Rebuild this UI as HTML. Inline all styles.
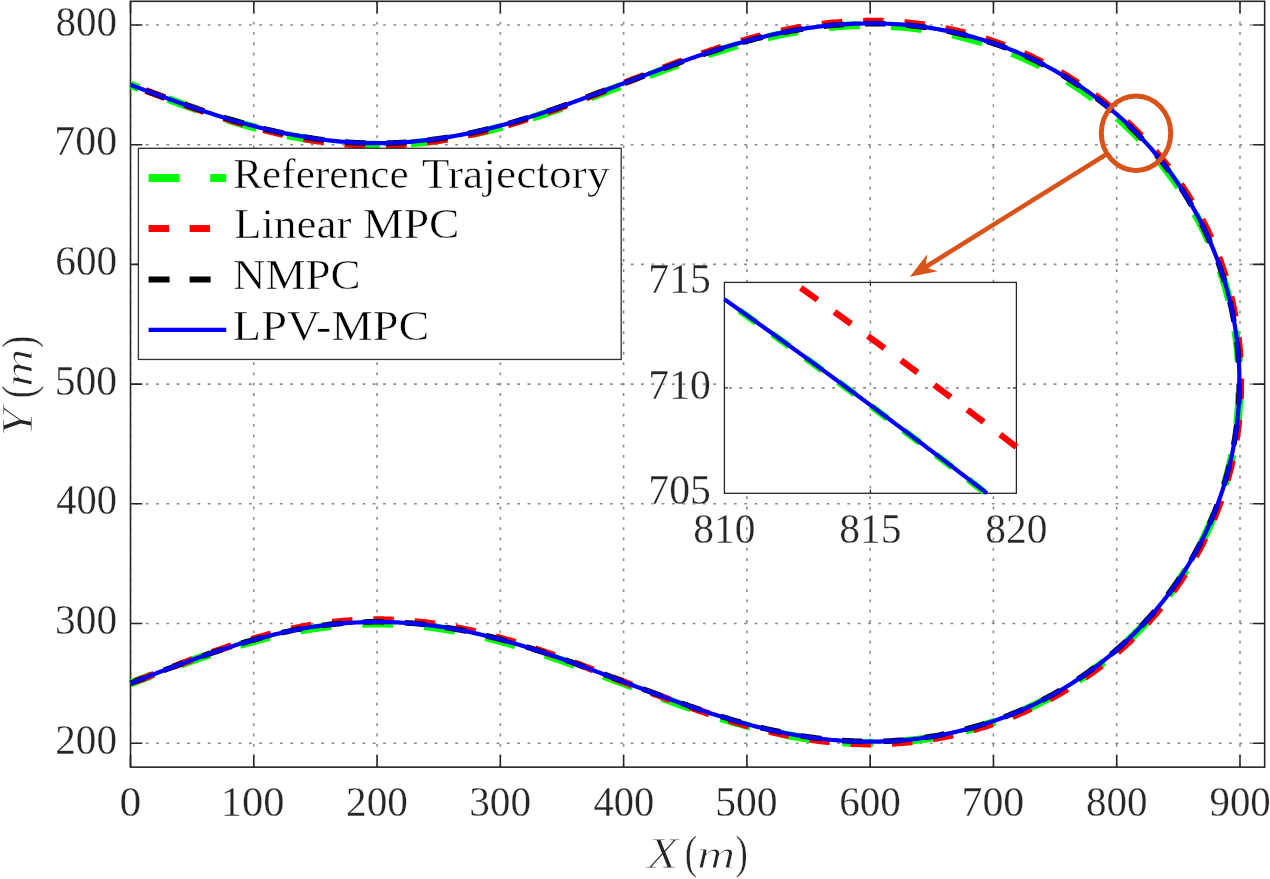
<!DOCTYPE html><html><head><meta charset="utf-8"><style>html,body{margin:0;padding:0;background:#fff;overflow:hidden;}svg{display:block;}</style></head><body>
<svg width="1270" height="879" viewBox="0 0 1270 879">
<rect width="1270" height="879" fill="#fff"/>
<defs><clipPath id="cm"><rect x="130.50" y="1.30" width="1134.16" height="765.84"/></clipPath>
<clipPath id="ci"><rect x="724.40" y="282.40" width="292.00" height="210.90"/></clipPath></defs>
<g clip-path="url(#cm)"><path d="M130.50,767.33V0M253.78,767.33V0M377.06,767.33V0M500.33,767.33V0M623.61,767.33V0M746.89,767.33V0M870.17,767.33V0M993.44,767.33V0M1116.72,767.33V0M1240.00,767.33V0M135.48,743.20H1265M135.48,623.50H1265M135.48,503.80H1265M135.48,384.10H1265M135.48,264.40H1265M135.48,144.70H1265M135.48,25.00H1265" stroke="#8a8a8a" stroke-width="1.6" stroke-dasharray="2.8 7.517" fill="none"/></g>
<path d="M130.50,767.14V755.34M130.50,1.30V13.10M253.78,767.14V755.34M253.78,1.30V13.10M377.06,767.14V755.34M377.06,1.30V13.10M500.33,767.14V755.34M500.33,1.30V13.10M623.61,767.14V755.34M623.61,1.30V13.10M746.89,767.14V755.34M746.89,1.30V13.10M870.17,767.14V755.34M870.17,1.30V13.10M993.44,767.14V755.34M993.44,1.30V13.10M1116.72,767.14V755.34M1116.72,1.30V13.10M1240.00,767.14V755.34M1240.00,1.30V13.10M130.50,743.20H142.30M1264.66,743.20H1252.86M130.50,623.50H142.30M1264.66,623.50H1252.86M130.50,503.80H142.30M1264.66,503.80H1252.86M130.50,384.10H142.30M1264.66,384.10H1252.86M130.50,264.40H142.30M1264.66,264.40H1252.86M130.50,144.70H142.30M1264.66,144.70H1252.86M130.50,25.00H142.30M1264.66,25.00H1252.86" stroke="#262626" stroke-width="1.6" fill="none"/>
<rect x="130.50" y="1.30" width="1134.16" height="765.84" stroke="#262626" stroke-width="1.6" fill="none"/>
<g fill="none" stroke-linejoin="round">
<path d="M130.50,84.85L132.97,85.79L135.45,86.74L137.92,87.68L140.40,88.62L142.87,89.56L145.34,90.50L147.82,91.44L150.29,92.38L152.76,93.31L155.24,94.24L157.71,95.17L160.19,96.10L162.66,97.03L165.13,97.95L167.61,98.87L170.08,99.78L172.55,100.69L175.03,101.60L177.50,102.51L179.98,103.40L182.45,104.30L184.92,105.19L187.40,106.07L189.87,106.95L192.35,107.83L194.82,108.69L197.29,109.56L199.77,110.41L202.24,111.26L204.71,112.11L207.19,112.94L209.66,113.77L212.14,114.59L214.61,115.41L217.08,116.22L219.56,117.01L222.03,117.81L224.50,118.59L226.98,119.36L229.45,120.13L231.93,120.89L234.40,121.64L236.87,122.38L239.35,123.11L241.82,123.83L244.29,124.54L246.77,125.24L249.24,125.93L251.72,126.61L254.19,127.28L256.66,127.94L259.14,128.59L261.61,129.23L264.09,129.86L266.56,130.47L269.03,131.08L271.51,131.67L273.98,132.25L276.45,132.82L278.93,133.38L281.40,133.93L283.88,134.46L286.35,134.98L288.82,135.49L291.30,135.99L293.77,136.47L296.24,136.94L298.72,137.40L301.19,137.84L303.67,138.28L306.14,138.69L308.61,139.10L311.09,139.49L313.56,139.87L316.04,140.23L318.51,140.58L320.98,140.92L323.46,141.24L325.93,141.55L328.40,141.85L330.88,142.13L333.35,142.39L335.83,142.65L338.30,142.88L340.77,143.11L343.25,143.32L345.72,143.51L348.19,143.69L350.67,143.86L353.14,144.01L355.62,144.14L358.09,144.26L360.56,144.37L363.04,144.46L365.51,144.54L367.98,144.60L370.46,144.65L372.93,144.68L375.41,144.70L377.88,144.70L380.35,144.69L382.83,144.66L385.30,144.62L387.78,144.56L390.25,144.49L392.72,144.40L395.20,144.30L397.67,144.18L400.14,144.05L402.62,143.91L405.09,143.75L407.57,143.57L410.04,143.38L412.51,143.18L414.99,142.96L417.46,142.73L419.93,142.48L422.41,142.22L424.88,141.94L427.36,141.65L429.83,141.35L432.30,141.03L434.78,140.70L437.25,140.35L439.73,139.99L442.20,139.62L444.67,139.23L447.15,138.83L449.62,138.42L452.09,137.99L454.57,137.55L457.04,137.10L459.52,136.63L461.99,136.15L464.46,135.66L466.94,135.15L469.41,134.64L471.88,134.11L474.36,133.56L476.83,133.01L479.31,132.44L481.78,131.87L484.25,131.28L486.73,130.68L489.20,130.06L491.68,129.44L494.15,128.80L496.62,128.16L499.10,127.50L501.57,126.84L504.04,126.16L506.52,125.47L508.99,124.77L511.47,124.07L513.94,123.35L516.41,122.62L518.89,121.88L521.36,121.14L523.83,120.38L526.31,119.62L528.78,118.85L531.26,118.07L533.73,117.28L536.20,116.48L538.68,115.68L541.15,114.87L543.62,114.05L546.10,113.22L548.57,112.38L551.05,111.54L553.52,110.70L555.99,109.84L558.47,108.98L560.94,108.12L563.42,107.24L565.89,106.37L568.36,105.48L570.84,104.60L573.31,103.70L575.78,102.81L578.26,101.90L580.73,101.00L583.21,100.09L585.68,99.17L588.15,98.26L590.63,97.33L593.10,96.41L595.57,95.48L598.05,94.55L600.52,93.62L603.00,92.69L605.47,91.75L607.94,90.81L610.42,89.87L612.89,88.93L615.37,87.99L617.84,87.05L620.31,86.11L622.79,85.16L625.26,84.22L627.73,83.28L630.21,82.34L632.68,81.39L635.16,80.45L637.63,79.51L640.10,78.57L642.58,77.64L645.05,76.70L647.52,75.77L650.00,74.84L652.47,73.91L654.95,72.98L657.42,72.06L659.89,71.14L662.37,70.22L664.84,69.31L667.31,68.40L669.79,67.50L672.26,66.59L674.74,65.70L677.21,64.81L679.68,63.92L682.16,63.04L684.63,62.16L687.11,61.29L689.58,60.43L692.05,59.57L694.53,58.72L697.00,57.87L699.47,57.04L701.95,56.20L704.42,55.38L706.90,54.56L709.37,53.75L711.84,52.95L714.32,52.16L716.79,51.37L719.26,50.59L721.74,49.82L724.21,49.06L726.69,48.31L729.16,47.57L731.63,46.84L734.11,46.11L736.58,45.40L739.06,44.69L741.53,44.00L744.00,43.31L746.48,42.64L748.95,41.98L751.42,41.32L753.90,40.68L756.37,40.05L758.85,39.43L761.32,38.82L763.79,38.23L766.27,37.64L768.74,37.07L771.21,36.50L773.69,35.95L776.16,35.42L778.64,34.89L781.11,34.38L783.58,33.88L786.06,33.39L788.53,32.91L791.01,32.45L793.48,32.00L795.95,31.57L798.43,31.14L800.90,30.73L803.37,30.34L805.85,29.95L808.32,29.59L810.80,29.23L813.27,28.89L815.74,28.56L818.22,28.25L820.69,27.95L823.16,27.66L825.64,27.39L828.11,27.14L830.59,26.89L833.06,26.66L835.53,26.45L838.01,26.25L840.48,26.07L842.95,25.90L845.43,25.74L847.90,25.60L850.38,25.48L852.85,25.36L855.32,25.27L857.80,25.19L860.27,25.12L862.75,25.07L865.22,25.03L867.69,25.01L870.17,25.00L873.07,25.51L875.98,25.54L878.89,25.60L881.80,25.68L884.70,25.78L887.61,25.90L890.51,26.04L893.42,26.21L896.32,26.40L899.22,26.61L902.12,26.84L905.01,27.10L907.91,27.38L910.80,27.68L913.69,28.00L916.57,28.34L919.46,28.71L922.34,29.10L925.22,29.51L928.09,29.94L930.96,30.39L933.83,30.87L936.69,31.36L939.55,31.88L942.40,32.43L945.25,32.99L948.10,33.57L950.94,34.18L953.77,34.81L956.60,35.46L959.43,36.13L962.24,36.82L965.06,37.54L967.87,38.27L970.67,39.03L973.46,39.81L976.25,40.61L979.03,41.43L981.81,42.28L984.58,43.14L987.34,44.03L990.09,44.93L992.84,45.86L995.58,46.81L998.31,47.78L1001.03,48.77L1003.75,49.78L1006.46,50.81L1009.15,51.86L1011.84,52.93L1014.53,54.03L1017.20,55.14L1019.86,56.28L1022.52,57.43L1025.16,58.60L1027.79,59.80L1030.42,61.02L1033.03,62.25L1035.64,63.51L1038.23,64.78L1040.82,66.07L1043.39,67.39L1045.96,68.72L1048.51,70.08L1051.05,71.45L1053.58,72.84L1056.10,74.25L1058.60,75.69L1061.10,77.14L1063.58,78.61L1066.05,80.09L1068.51,81.60L1070.96,83.13L1073.39,84.67L1075.82,86.23L1078.23,87.81L1080.62,89.41L1083.00,91.03L1085.37,92.67L1087.73,94.32L1090.07,96.00L1092.40,97.69L1094.72,99.39L1097.02,101.12L1099.31,102.86L1101.58,104.62L1103.84,106.40L1106.09,108.19L1108.32,110.01L1110.53,111.84L1112.73,113.68L1114.92,115.54L1117.09,117.42L1119.24,119.32L1121.38,121.23L1123.51,123.16L1125.61,125.11L1127.71,127.07L1129.78,129.04L1131.84,131.04L1133.89,133.04L1135.92,135.07L1137.93,137.11L1139.92,139.16L1141.90,141.23L1143.86,143.32L1145.80,145.42L1147.73,147.53L1149.64,149.66L1151.53,151.80L1153.41,153.96L1155.27,156.14L1157.11,158.32L1158.93,160.52L1160.73,162.74L1162.52,164.96L1164.29,167.21L1166.04,169.46L1167.77,171.73L1169.48,174.01L1171.17,176.31L1172.85,178.61L1174.51,180.93L1176.14,183.27L1177.76,185.61L1179.36,187.97L1180.94,190.34L1182.51,192.72L1184.05,195.12L1185.57,197.52L1187.07,199.94L1188.56,202.37L1190.02,204.81L1191.47,207.26L1192.89,209.72L1194.29,212.19L1195.68,214.67L1197.04,217.17L1198.39,219.67L1199.71,222.19L1201.01,224.71L1202.29,227.24L1203.56,229.79L1204.80,232.34L1206.02,234.90L1207.22,237.48L1208.39,240.06L1209.55,242.65L1210.69,245.25L1211.80,247.85L1212.90,250.47L1213.97,253.09L1215.02,255.73L1216.05,258.37L1217.06,261.01L1218.05,263.67L1219.02,266.33L1219.96,269.00L1220.88,271.68L1221.78,274.37L1222.66,277.06L1223.52,279.75L1224.35,282.46L1225.17,285.17L1225.96,287.89L1226.73,290.61L1227.47,293.34L1228.20,296.07L1228.90,298.81L1229.58,301.56L1230.24,304.31L1230.88,307.06L1231.49,309.82L1232.08,312.59L1232.65,315.36L1233.20,318.13L1233.72,320.91L1234.22,323.69L1234.70,326.47L1235.16,329.26L1235.59,332.05L1236.00,334.85L1236.39,337.65L1236.75,340.45L1237.10,343.25L1237.42,346.06L1237.71,348.86L1237.99,351.68L1238.24,354.49L1238.47,357.30L1238.67,360.12L1238.86,362.94L1239.02,365.76L1239.15,368.58L1239.27,371.40L1239.36,374.22L1239.43,377.04L1239.47,379.87L1239.50,382.69L1239.50,385.51L1239.47,388.33L1239.43,391.16L1239.36,393.98L1239.27,396.80L1239.15,399.62L1239.02,402.44L1238.86,405.26L1238.67,408.08L1238.47,410.90L1238.24,413.71L1237.99,416.52L1237.71,419.34L1237.42,422.14L1237.10,424.95L1236.75,427.75L1236.39,430.55L1236.00,433.35L1235.59,436.15L1235.16,438.94L1234.70,441.73L1234.22,444.51L1233.72,447.29L1233.20,450.07L1232.65,452.84L1232.08,455.61L1231.49,458.38L1230.88,461.14L1230.24,463.89L1229.58,466.64L1228.90,469.39L1228.20,472.13L1227.47,474.86L1226.73,477.59L1225.96,480.31L1225.17,483.03L1224.35,485.74L1223.52,488.45L1222.66,491.14L1221.78,493.83L1220.88,496.52L1219.96,499.20L1219.02,501.87L1218.05,504.53L1217.06,507.19L1216.05,509.83L1215.02,512.47L1213.97,515.11L1212.90,517.73L1211.80,520.35L1210.69,522.95L1209.55,525.55L1208.39,528.14L1207.22,530.72L1206.02,533.30L1204.80,535.86L1203.56,538.41L1202.29,540.96L1201.01,543.49L1199.71,546.01L1198.39,548.53L1197.04,551.03L1195.68,553.53L1194.29,556.01L1192.89,558.48L1191.47,560.94L1190.02,563.39L1188.56,565.83L1187.07,568.26L1185.57,570.68L1184.05,573.08L1182.51,575.48L1180.94,577.86L1179.36,580.23L1177.76,582.59L1176.14,584.93L1174.51,587.27L1172.85,589.59L1171.17,591.89L1169.48,594.19L1167.77,596.47L1166.04,598.74L1164.29,600.99L1162.52,603.24L1160.73,605.46L1158.93,607.68L1157.11,609.88L1155.27,612.06L1153.41,614.24L1151.53,616.40L1149.64,618.54L1147.73,620.67L1145.80,622.78L1143.86,624.88L1141.90,626.97L1139.92,629.04L1137.93,631.09L1135.92,633.13L1133.89,635.16L1131.84,637.16L1129.78,639.16L1127.71,641.13L1125.61,643.09L1123.51,645.04L1121.38,646.97L1119.24,648.88L1117.09,650.78L1114.92,652.66L1112.73,654.52L1110.53,656.36L1108.32,658.19L1106.09,660.01L1103.84,661.80L1101.58,663.58L1099.31,665.34L1097.02,667.08L1094.72,668.81L1092.40,670.51L1090.07,672.20L1087.73,673.88L1085.37,675.53L1083.00,677.17L1080.62,678.79L1078.23,680.39L1075.82,681.97L1073.39,683.53L1070.96,685.07L1068.51,686.60L1066.05,688.11L1063.58,689.59L1061.10,691.06L1058.60,692.51L1056.10,693.95L1053.58,695.36L1051.05,696.75L1048.51,698.12L1045.96,699.48L1043.39,700.81L1040.82,702.13L1038.23,703.42L1035.64,704.69L1033.03,705.95L1030.42,707.18L1027.79,708.40L1025.16,709.60L1022.52,710.77L1019.86,711.92L1017.20,713.06L1014.53,714.17L1011.84,715.27L1009.15,716.34L1006.46,717.39L1003.75,718.42L1001.03,719.43L998.31,720.42L995.58,721.39L992.84,722.34L990.09,723.27L987.34,724.17L984.58,725.06L981.81,725.92L979.03,726.77L976.25,727.59L973.46,728.39L970.67,729.17L967.87,729.93L965.06,730.66L962.24,731.38L959.43,732.07L956.60,732.74L953.77,733.39L950.94,734.02L948.10,734.63L945.25,735.21L942.40,735.77L939.55,736.32L936.69,736.84L933.83,737.33L930.96,737.81L928.09,738.26L925.22,738.69L922.34,739.10L919.46,739.49L916.57,739.86L913.69,740.20L910.80,740.52L907.91,740.82L905.01,741.10L902.12,741.36L899.22,741.59L896.32,741.80L893.42,741.99L890.51,742.16L887.61,742.30L884.70,742.42L881.80,742.52L878.89,742.60L875.98,742.66L873.07,742.69L870.17,742.70L867.69,743.19L865.22,743.17L862.75,743.13L860.27,743.08L857.80,743.01L855.32,742.93L852.85,742.84L850.38,742.72L847.90,742.60L845.43,742.46L842.95,742.30L840.48,742.13L838.01,741.95L835.53,741.75L833.06,741.54L830.59,741.31L828.11,741.06L825.64,740.81L823.16,740.54L820.69,740.25L818.22,739.95L815.74,739.64L813.27,739.31L810.80,738.97L808.32,738.61L805.85,738.25L803.37,737.86L800.90,737.47L798.43,737.06L795.95,736.63L793.48,736.20L791.01,735.75L788.53,735.29L786.06,734.81L783.58,734.32L781.11,733.82L778.64,733.31L776.16,732.78L773.69,732.25L771.21,731.70L768.74,731.13L766.27,730.56L763.79,729.97L761.32,729.38L758.85,728.77L756.37,728.15L753.90,727.52L751.42,726.88L748.95,726.22L746.48,725.56L744.00,724.89L741.53,724.20L739.06,723.51L736.58,722.80L734.11,722.09L731.63,721.36L729.16,720.63L726.69,719.89L724.21,719.14L721.74,718.38L719.26,717.61L716.79,716.83L714.32,716.04L711.84,715.25L709.37,714.45L706.90,713.64L704.42,712.82L701.95,712.00L699.47,711.16L697.00,710.33L694.53,709.48L692.05,708.63L689.58,707.77L687.11,706.91L684.63,706.04L682.16,705.16L679.68,704.28L677.21,703.39L674.74,702.50L672.26,701.61L669.79,700.70L667.31,699.80L664.84,698.89L662.37,697.98L659.89,697.06L657.42,696.14L654.95,695.22L652.47,694.29L650.00,693.36L647.52,692.43L645.05,691.50L642.58,690.56L640.10,689.63L637.63,688.69L635.16,687.75L632.68,686.81L630.21,685.86L627.73,684.92L625.26,683.98L622.79,683.04L620.31,682.09L617.84,681.15L615.37,680.21L612.89,679.27L610.42,678.33L607.94,677.39L605.47,676.45L603.00,675.51L600.52,674.58L598.05,673.65L595.57,672.72L593.10,671.79L590.63,670.87L588.15,669.94L585.68,669.03L583.21,668.11L580.73,667.20L578.26,666.30L575.78,665.39L573.31,664.50L570.84,663.60L568.36,662.72L565.89,661.83L563.42,660.96L560.94,660.08L558.47,659.22L555.99,658.36L553.52,657.50L551.05,656.66L548.57,655.82L546.10,654.98L543.62,654.15L541.15,653.33L538.68,652.52L536.20,651.72L533.73,650.92L531.26,650.13L528.78,649.35L526.31,648.58L523.83,647.82L521.36,647.06L518.89,646.32L516.41,645.58L513.94,644.85L511.47,644.13L508.99,643.43L506.52,642.73L504.04,642.04L501.57,641.36L499.10,640.70L496.62,640.04L494.15,639.40L491.68,638.76L489.20,638.14L486.73,637.52L484.25,636.92L481.78,636.33L479.31,635.76L476.83,635.19L474.36,634.64L471.88,634.09L469.41,633.56L466.94,633.05L464.46,632.54L461.99,632.05L459.52,631.57L457.04,631.10L454.57,630.65L452.09,630.21L449.62,629.78L447.15,629.37L444.67,628.97L442.20,628.58L439.73,628.21L437.25,627.85L434.78,627.50L432.30,627.17L429.83,626.85L427.36,626.55L424.88,626.26L422.41,625.98L419.93,625.72L417.46,625.47L414.99,625.24L412.51,625.02L410.04,624.82L407.57,624.63L405.09,624.45L402.62,624.29L400.14,624.15L397.67,624.02L395.20,623.90L392.72,623.80L390.25,623.71L387.78,623.64L385.30,623.58L382.83,623.54L380.35,623.51L377.88,623.50L375.41,623.50L372.93,623.52L370.46,623.55L367.98,623.60L365.51,623.66L363.04,623.74L360.56,623.83L358.09,623.94L355.62,624.06L353.14,624.19L350.67,624.34L348.19,624.51L345.72,624.69L343.25,624.88L340.77,625.09L338.30,625.32L335.83,625.55L333.35,625.81L330.88,626.07L328.40,626.35L325.93,626.65L323.46,626.96L320.98,627.28L318.51,627.62L316.04,627.97L313.56,628.33L311.09,628.71L308.61,629.10L306.14,629.51L303.67,629.92L301.19,630.36L298.72,630.80L296.24,631.26L293.77,631.73L291.30,632.21L288.82,632.71L286.35,633.22L283.88,633.74L281.40,634.27L278.93,634.82L276.45,635.38L273.98,635.95L271.51,636.53L269.03,637.12L266.56,637.73L264.09,638.34L261.61,638.97L259.14,639.61L256.66,640.26L254.19,640.92L251.72,641.59L249.24,642.27L246.77,642.96L244.29,643.66L241.82,644.37L239.35,645.09L236.87,645.82L234.40,646.56L231.93,647.31L229.45,648.07L226.98,648.84L224.50,649.61L222.03,650.39L219.56,651.19L217.08,651.98L214.61,652.79L212.14,653.61L209.66,654.43L207.19,655.26L204.71,656.09L202.24,656.94L199.77,657.79L197.29,658.64L194.82,659.51L192.35,660.37L189.87,661.25L187.40,662.13L184.92,663.01L182.45,663.90L179.98,664.80L177.50,665.69L175.03,666.60L172.55,667.51L170.08,668.42L167.61,669.33L165.13,670.25L162.66,671.17L160.19,672.10L157.71,673.03L155.24,673.96L152.76,674.89L150.29,675.82L147.82,676.76L145.34,677.70L142.87,678.64L140.40,679.58L137.92,680.52L135.45,681.46L132.97,682.41L130.50,683.35" stroke="#00ff00" stroke-width="8" stroke-dasharray="31 31.2" stroke-dashoffset="21.9"/>
<path d="M130.50,84.85L132.97,85.77L135.45,86.69L137.92,87.61L140.39,88.54L142.87,89.46L145.34,90.38L147.81,91.30L150.28,92.22L152.75,93.14L155.22,94.05L157.69,94.97L160.16,95.88L162.63,96.80L165.10,97.71L167.57,98.61L170.04,99.52L172.51,100.42L174.98,101.32L177.45,102.21L179.92,103.11L182.39,103.99L184.86,104.88L187.32,105.76L189.79,106.63L192.26,107.50L194.73,108.37L197.19,109.23L199.66,110.08L202.13,110.93L204.59,111.78L207.06,112.62L209.53,113.45L211.99,114.27L214.46,115.09L216.93,115.91L219.39,116.71L221.86,117.51L224.32,118.30L226.79,119.08L229.26,119.86L231.72,120.63L234.19,121.39L236.66,122.14L239.12,122.88L241.59,123.61L244.06,124.34L246.52,125.05L248.99,125.76L251.46,126.46L253.92,127.14L256.39,127.82L258.86,128.49L261.33,129.15L263.80,129.79L266.26,130.43L268.73,131.06L271.20,131.67L273.67,132.27L276.14,132.87L278.61,133.45L281.08,134.02L283.55,134.57L286.03,135.12L288.50,135.65L290.97,136.18L293.44,136.68L295.92,137.18L298.39,137.67L300.87,138.14L303.35,138.59L305.83,139.03L308.31,139.46L310.79,139.87L313.27,140.27L315.75,140.65L318.23,141.02L320.72,141.38L323.20,141.72L325.68,142.04L328.17,142.35L330.65,142.65L333.13,142.93L335.62,143.20L338.10,143.45L340.59,143.69L343.07,143.91L345.56,144.11L348.04,144.30L350.53,144.48L353.02,144.64L355.50,144.78L357.99,144.91L360.48,145.02L362.96,145.12L365.45,145.20L367.94,145.26L370.42,145.31L372.91,145.35L375.40,145.37L377.88,145.37L380.37,145.36L382.86,145.33L385.35,145.28L387.83,145.22L390.32,145.15L392.81,145.05L395.29,144.95L397.78,144.82L400.27,144.69L402.75,144.53L405.24,144.36L407.72,144.18L410.21,143.98L412.70,143.76L415.18,143.53L417.67,143.28L420.15,143.02L422.63,142.75L425.12,142.45L427.60,142.15L430.09,141.83L432.57,141.49L435.05,141.14L437.53,140.78L440.01,140.40L442.50,140.00L444.98,139.60L447.46,139.18L449.94,138.74L452.42,138.29L454.90,137.83L457.38,137.35L459.86,136.86L462.33,136.36L464.81,135.84L467.29,135.31L469.77,134.77L472.24,134.22L474.72,133.65L477.20,133.07L479.67,132.48L482.15,131.87L484.62,131.26L487.10,130.63L489.57,129.99L492.04,129.34L494.52,128.68L496.99,128.01L499.46,127.32L501.94,126.63L504.41,125.92L506.88,125.21L509.35,124.48L511.82,123.75L514.29,123.00L516.76,122.25L519.23,121.48L521.70,120.71L524.17,119.93L526.64,119.14L529.11,118.34L531.58,117.53L534.04,116.71L536.51,115.89L538.98,115.05L541.45,114.21L543.91,113.37L546.38,112.51L548.85,111.65L551.31,110.78L553.78,109.91L556.25,109.02L558.71,108.14L561.18,107.24L563.65,106.34L566.11,105.44L568.58,104.53L571.04,103.61L573.51,102.69L575.97,101.77L578.44,100.84L580.90,99.91L583.37,98.97L585.83,98.03L588.29,97.09L590.76,96.14L593.22,95.19L595.69,94.23L598.15,93.28L600.62,92.32L603.08,91.36L605.54,90.40L608.01,89.43L610.47,88.47L612.93,87.50L615.40,86.53L617.86,85.56L620.33,84.59L622.79,83.62L625.25,82.65L627.72,81.68L630.18,80.72L632.64,79.75L635.11,78.78L637.57,77.81L640.04,76.85L642.50,75.88L644.96,74.92L647.43,73.96L649.89,73.00L652.36,72.05L654.82,71.10L657.28,70.15L659.75,69.20L662.21,68.26L664.68,67.32L667.14,66.38L669.61,65.45L672.07,64.52L674.54,63.60L677.00,62.68L679.47,61.77L681.93,60.86L684.40,59.96L686.86,59.06L689.33,58.17L691.80,57.28L694.26,56.40L696.73,55.53L699.20,54.66L701.66,53.80L704.13,52.95L706.60,52.11L709.07,51.27L711.53,50.44L714.00,49.62L716.47,48.80L718.94,48.00L721.41,47.20L723.88,46.41L726.34,45.63L728.81,44.86L731.28,44.10L733.75,43.35L736.23,42.61L738.70,41.87L741.17,41.15L743.64,40.44L746.11,39.74L748.58,39.05L751.06,38.37L753.53,37.70L756.00,37.04L758.48,36.39L760.95,35.76L763.42,35.14L765.90,34.52L768.38,33.92L770.85,33.34L773.33,32.76L775.80,32.20L778.28,31.65L780.76,31.11L783.24,30.58L785.71,30.07L788.19,29.57L790.67,29.09L793.15,28.62L795.63,28.16L798.11,27.71L800.59,27.28L803.07,26.87L805.55,26.46L808.03,26.07L810.52,25.70L813.00,25.34L815.48,24.99L817.96,24.66L820.45,24.35L822.93,24.05L825.42,23.76L827.90,23.49L830.39,23.23L832.87,22.99L835.36,22.77L837.84,22.55L840.33,22.36L842.81,22.18L845.30,22.02L847.78,21.87L850.27,21.73L852.76,21.61L855.24,21.51L857.73,21.43L860.22,21.36L862.71,21.30L865.19,21.26L867.68,21.00L870.17,21.13L873.11,21.06L876.05,21.10L878.99,21.15L881.93,21.23L884.87,21.34L887.81,21.46L890.75,21.61L893.69,21.78L896.62,21.97L899.56,22.18L902.49,22.42L905.42,22.68L908.35,22.96L911.27,23.27L914.19,23.59L917.11,23.94L920.03,24.31L922.95,24.71L925.86,25.12L928.76,25.56L931.67,26.02L934.57,26.50L937.46,27.01L940.35,27.53L943.24,28.08L946.12,28.65L949.00,29.24L951.88,29.86L954.74,30.50L957.61,31.15L960.46,31.83L963.32,32.54L966.16,33.26L969.00,34.01L971.84,34.77L974.66,35.56L977.48,36.37L980.30,37.21L983.11,38.06L985.91,38.94L988.70,39.83L991.49,40.75L994.27,41.69L997.04,42.65L999.80,43.63L1002.55,44.63L1005.30,45.66L1008.04,46.70L1010.77,47.77L1013.49,48.86L1016.19,49.98L1018.89,51.13L1021.57,52.30L1024.25,53.49L1026.92,54.69L1029.57,55.92L1032.22,57.17L1034.85,58.44L1037.48,59.73L1040.09,61.04L1042.69,62.37L1045.29,63.72L1047.87,65.08L1050.44,66.47L1053.00,67.88L1055.54,69.31L1058.08,70.75L1060.60,72.22L1063.11,73.70L1065.61,75.21L1068.10,76.73L1070.57,78.27L1073.03,79.83L1075.48,81.41L1077.91,83.01L1080.34,84.63L1082.74,86.26L1085.14,87.91L1087.52,89.58L1089.89,91.27L1092.24,92.98L1094.58,94.71L1096.91,96.45L1099.22,98.21L1101.52,99.99L1103.80,101.78L1106.07,103.59L1108.32,105.42L1110.56,107.27L1112.78,109.13L1114.99,111.01L1117.18,112.91L1119.36,114.83L1121.52,116.76L1123.66,118.70L1125.79,120.67L1127.90,122.64L1130.00,124.64L1132.08,126.65L1134.15,128.67L1136.21,130.70L1138.26,132.74L1140.29,134.80L1142.30,136.87L1144.29,138.96L1146.27,141.07L1148.23,143.18L1150.18,145.32L1152.11,147.47L1154.02,149.63L1155.91,151.81L1157.78,154.00L1159.64,156.21L1161.48,158.43L1163.30,160.66L1165.10,162.91L1166.88,165.17L1168.65,167.45L1170.40,169.74L1172.13,172.04L1173.84,174.36L1175.53,176.69L1177.20,179.03L1178.85,181.38L1180.49,183.75L1182.10,186.13L1183.70,188.52L1185.27,190.92L1186.83,193.34L1188.37,195.77L1189.88,198.21L1191.38,200.66L1192.86,203.12L1194.32,205.59L1195.75,208.08L1197.17,210.57L1198.57,213.08L1199.94,215.60L1201.30,218.12L1202.64,220.66L1203.95,223.21L1205.24,225.77L1206.52,228.33L1207.77,230.91L1209.00,233.50L1210.21,236.09L1211.40,238.70L1212.57,241.31L1213.72,243.94L1214.83,246.57L1215.89,249.23L1216.94,251.89L1217.96,254.57L1218.96,257.24L1219.94,259.93L1220.90,262.62L1221.83,265.32L1222.74,268.03L1223.63,270.75L1224.50,273.47L1225.35,276.19L1226.17,278.92L1226.97,281.66L1227.75,284.41L1228.51,287.16L1229.24,289.91L1229.95,292.67L1230.64,295.43L1231.31,298.20L1231.96,300.98L1232.58,303.76L1233.18,306.54L1233.75,309.33L1234.31,312.12L1234.84,314.92L1235.35,317.71L1235.83,320.52L1236.29,323.32L1236.73,326.13L1237.15,328.94L1237.55,331.76L1237.92,334.57L1238.27,337.39L1238.59,340.21L1238.89,343.04L1239.17,345.86L1239.43,348.69L1239.66,351.52L1239.87,354.35L1240.06,357.18L1240.23,360.01L1240.37,362.84L1240.49,365.68L1240.58,368.51L1240.66,371.35L1240.71,374.18L1240.73,377.02L1240.74,379.85L1240.72,382.68L1240.70,385.52L1240.68,388.35L1240.64,391.18L1240.57,394.01L1240.48,396.85L1240.37,399.68L1240.23,402.51L1240.08,405.34L1239.90,408.17L1239.69,410.99L1239.47,413.82L1239.22,416.64L1238.94,419.46L1238.65,422.28L1238.33,425.10L1237.99,427.91L1237.63,430.72L1237.24,433.53L1236.83,436.34L1236.40,439.14L1235.94,441.94L1235.47,444.73L1234.97,447.52L1234.44,450.31L1233.90,453.10L1233.33,455.88L1232.74,458.65L1232.13,461.42L1231.49,464.19L1230.83,466.95L1230.15,469.70L1229.45,472.45L1228.73,475.20L1227.98,477.94L1227.21,480.67L1226.42,483.40L1225.61,486.12L1224.77,488.84L1223.91,491.55L1223.03,494.25L1222.13,496.94L1221.21,499.63L1220.27,502.31L1219.30,504.99L1218.31,507.66L1217.30,510.32L1216.27,512.97L1215.22,515.61L1214.14,518.25L1213.05,520.87L1211.93,523.49L1210.79,526.10L1209.63,528.70L1208.45,531.29L1207.25,533.88L1206.03,536.45L1204.79,539.02L1203.52,541.57L1202.24,544.12L1200.93,546.65L1199.61,549.18L1198.26,551.69L1196.89,554.20L1195.51,556.69L1194.10,559.18L1192.67,561.65L1191.23,564.11L1189.76,566.56L1188.27,569.00L1186.76,571.43L1185.24,573.84L1183.69,576.25L1182.13,578.64L1180.54,581.02L1178.94,583.39L1177.32,585.75L1175.67,588.09L1174.01,590.42L1172.33,592.74L1170.63,595.05L1168.92,597.34L1167.18,599.62L1165.43,601.89L1163.65,604.14L1161.86,606.38L1160.05,608.60L1158.23,610.81L1156.38,613.01L1154.52,615.19L1152.64,617.36L1150.74,619.52L1148.83,621.66L1146.89,623.78L1144.94,625.89L1142.98,627.99L1140.99,630.07L1138.99,632.13L1136.97,634.18L1134.94,636.22L1132.89,638.24L1130.82,640.24L1128.74,642.22L1126.63,644.19L1124.52,646.14L1122.38,648.08L1120.23,650.00L1118.07,651.90L1115.89,653.78L1113.69,655.65L1111.48,657.51L1109.26,659.34L1107.02,661.16L1104.76,662.96L1102.49,664.74L1100.21,666.51L1097.91,668.26L1095.60,669.99L1093.27,671.70L1090.93,673.40L1088.58,675.08L1086.21,676.74L1083.83,678.38L1081.44,680.00L1079.03,681.61L1076.61,683.19L1074.18,684.76L1071.74,686.31L1069.28,687.84L1066.81,689.35L1064.33,690.84L1061.83,692.32L1059.33,693.77L1056.81,695.21L1054.28,696.62L1051.74,698.02L1049.19,699.40L1046.63,700.76L1044.05,702.09L1041.47,703.41L1038.87,704.71L1036.27,705.99L1033.65,707.25L1031.03,708.49L1028.39,709.70L1025.75,710.90L1023.09,712.08L1020.43,713.24L1017.75,714.37L1015.07,715.49L1012.38,716.59L1009.68,717.66L1006.97,718.72L1004.25,719.75L1001.52,720.77L998.79,721.76L996.05,722.73L993.30,723.68L990.54,724.61L987.78,725.52L985.00,726.40L982.22,727.27L979.44,728.12L976.64,728.94L973.84,729.74L971.04,730.52L968.23,731.28L965.41,732.02L962.58,732.73L959.75,733.43L956.92,734.10L954.08,734.75L951.23,735.38L948.38,735.99L945.53,736.57L942.66,737.14L939.80,737.68L936.93,738.20L934.06,738.70L931.18,739.17L928.30,739.63L925.41,740.06L922.53,740.47L919.64,740.86L916.74,741.22L913.84,741.57L910.94,741.89L908.04,742.19L905.14,742.46L902.23,742.72L899.32,742.95L896.41,743.16L893.50,743.35L890.59,743.51L887.67,743.66L884.76,743.78L881.84,743.88L878.92,743.95L876.00,744.01L873.09,744.04L870.17,744.05L867.68,744.10L865.19,743.84L862.71,743.80L860.22,743.74L857.73,743.67L855.24,743.59L852.76,743.49L850.27,743.37L847.78,743.23L845.30,743.08L842.81,742.92L840.33,742.74L837.84,742.55L835.36,742.33L832.87,742.11L830.39,741.87L827.90,741.61L825.42,741.34L822.93,741.05L820.45,740.75L817.96,740.44L815.48,740.11L813.00,739.76L810.52,739.40L808.03,739.03L805.55,738.64L803.07,738.23L800.59,737.82L798.11,737.39L795.63,736.94L793.15,736.48L790.67,736.01L788.19,735.53L785.71,735.03L783.24,734.52L780.76,733.99L778.28,733.45L775.80,732.90L773.33,732.34L770.85,731.76L768.38,731.18L765.90,730.58L763.42,729.96L760.95,729.34L758.48,728.71L756.00,728.06L753.53,727.40L751.06,726.73L748.58,726.05L746.11,725.36L743.64,724.66L741.17,723.95L738.70,723.23L736.23,722.49L733.75,721.75L731.28,721.00L728.81,720.24L726.34,719.47L723.88,718.69L721.41,717.90L718.94,717.10L716.47,716.30L714.00,715.48L711.53,714.66L709.07,713.83L706.60,712.99L704.13,712.15L701.66,711.30L699.20,710.44L696.73,709.57L694.26,708.70L691.80,707.82L689.33,706.93L686.86,706.04L684.40,705.14L681.93,704.24L679.47,703.33L677.00,702.42L674.54,701.50L672.07,700.58L669.61,699.65L667.14,698.72L664.68,697.78L662.21,696.84L659.75,695.90L657.28,694.95L654.82,694.00L652.36,693.05L649.89,692.10L647.43,691.14L644.96,690.18L642.50,689.22L640.04,688.25L637.57,687.29L635.11,686.32L632.64,685.35L630.18,684.38L627.72,683.42L625.25,682.45L622.79,681.48L620.33,680.51L617.86,679.54L615.40,678.57L612.93,677.60L610.47,676.63L608.01,675.67L605.54,674.70L603.08,673.74L600.62,672.78L598.15,671.82L595.69,670.87L593.22,669.91L590.76,668.96L588.29,668.01L585.83,667.07L583.37,666.13L580.90,665.19L578.44,664.26L575.97,663.33L573.51,662.41L571.04,661.49L568.58,660.57L566.11,659.66L563.65,658.76L561.18,657.86L558.71,656.96L556.25,656.08L553.78,655.19L551.31,654.32L548.85,653.45L546.38,652.59L543.91,651.73L541.45,650.89L538.98,650.05L536.51,649.21L534.04,648.39L531.58,647.57L529.11,646.76L526.64,645.96L524.17,645.17L521.70,644.39L519.23,643.62L516.76,642.85L514.29,642.10L511.82,641.35L509.35,640.62L506.88,639.89L504.41,639.18L501.94,638.47L499.46,637.78L496.99,637.09L494.52,636.42L492.04,635.76L489.57,635.11L487.10,634.47L484.62,633.84L482.15,633.23L479.67,632.62L477.20,632.03L474.72,631.45L472.24,630.88L469.77,630.33L467.29,629.79L464.81,629.26L462.33,628.74L459.86,628.24L457.38,627.75L454.90,627.27L452.42,626.81L449.94,626.36L447.46,625.92L444.98,625.50L442.50,625.10L440.01,624.70L437.53,624.32L435.05,623.96L432.57,623.61L430.09,623.27L427.60,622.95L425.12,622.65L422.63,622.35L420.15,622.08L417.67,621.82L415.18,621.57L412.70,621.34L410.21,621.12L407.72,620.92L405.24,620.74L402.75,620.57L400.27,620.41L397.78,620.28L395.29,620.15L392.81,620.05L390.32,619.95L387.83,619.88L385.35,619.82L382.86,619.77L380.37,619.74L377.88,619.73L375.40,619.73L372.91,619.75L370.42,619.79L367.94,619.84L365.45,619.90L362.96,619.98L360.48,620.08L357.99,620.19L355.50,620.32L353.02,620.46L350.53,620.62L348.04,620.80L345.56,620.99L343.07,621.19L340.59,621.41L338.10,621.65L335.62,621.90L333.13,622.17L330.65,622.45L328.17,622.75L325.68,623.06L323.20,623.38L320.72,623.72L318.23,624.08L315.75,624.45L313.27,624.83L310.79,625.23L308.31,625.64L305.83,626.07L303.35,626.51L300.87,626.98L298.39,627.50L295.92,628.02L293.44,628.56L290.97,629.12L288.50,629.68L286.03,630.26L283.55,630.85L281.08,631.45L278.61,632.06L276.14,632.69L273.67,633.32L271.20,633.97L268.73,634.63L266.26,635.30L263.80,635.98L261.33,636.67L258.86,637.37L256.39,638.08L253.92,638.80L251.46,639.53L248.99,640.28L246.52,641.03L244.06,641.79L241.59,642.56L239.12,643.33L236.66,644.12L234.19,644.92L231.72,645.72L229.26,646.53L226.79,647.35L224.32,648.18L221.86,649.02L219.39,649.86L216.93,650.71L214.46,651.57L211.99,652.43L209.53,653.30L207.06,654.18L204.59,655.06L202.13,655.95L199.66,656.84L197.19,657.74L194.73,658.65L192.26,659.56L189.79,660.48L187.32,661.40L184.86,662.32L182.39,663.25L179.92,664.18L177.45,665.12L174.98,666.06L172.51,667.01L170.04,667.95L167.57,668.90L165.10,669.86L162.63,670.81L160.16,671.77L157.69,672.73L155.22,673.69L152.75,674.65L150.28,675.62L147.81,676.58L145.34,677.55L142.87,678.51L140.39,679.48L137.92,680.45L135.45,681.42L132.97,682.38L130.50,683.35" stroke="#ff0000" stroke-width="6.8" stroke-dasharray="20.5 20.83" stroke-dashoffset="25.1"/>
<path d="M130.50,84.85L132.97,85.77L135.45,86.69L137.92,87.62L140.39,88.54L142.87,89.46L145.34,90.38L147.81,91.29L150.28,92.21L152.76,93.12L155.23,94.04L157.70,94.95L160.18,95.85L162.65,96.76L165.12,97.66L167.60,98.56L170.07,99.45L172.54,100.34L175.01,101.23L177.49,102.11L179.96,102.99L182.43,103.86L184.91,104.73L187.38,105.60L189.85,106.46L192.33,107.31L194.80,108.16L197.27,109.00L199.75,109.83L202.22,110.66L204.69,111.49L207.17,112.30L209.64,113.11L212.11,113.91L214.59,114.71L217.06,115.50L219.53,116.27L222.01,117.05L224.48,117.81L226.95,118.56L229.43,119.31L231.90,120.05L234.37,120.78L236.85,121.49L239.32,122.20L241.79,122.91L244.27,123.60L246.74,124.28L249.21,124.95L251.69,125.61L254.16,126.26L256.64,126.90L259.11,127.53L261.58,128.15L264.06,128.76L266.53,129.35L269.00,129.94L271.48,130.51L273.95,131.07L276.43,131.62L278.90,132.16L281.37,132.69L283.85,133.20L286.32,133.70L288.80,134.19L291.27,134.67L293.74,135.13L296.22,135.59L298.69,136.02L301.17,136.45L303.64,136.87L306.12,137.29L308.59,137.70L311.06,138.09L313.54,138.47L316.01,138.83L318.49,139.18L320.96,139.52L323.44,139.84L325.91,140.15L328.39,140.45L330.86,140.73L333.34,140.99L335.81,141.25L338.29,141.48L340.76,141.71L343.23,141.92L345.71,142.11L348.18,142.29L350.66,142.46L353.13,142.61L355.61,142.74L358.08,142.86L360.56,142.97L363.03,143.06L365.51,143.14L367.98,143.20L370.46,143.25L372.93,143.28L375.41,143.30L377.88,143.30L380.36,143.29L382.83,143.26L385.30,143.22L387.78,143.16L390.25,143.09L392.73,143.00L395.20,142.90L397.68,142.78L400.15,142.65L402.63,142.51L405.10,142.35L407.58,142.17L410.05,141.98L412.53,141.78L415.00,141.56L417.48,141.33L419.95,141.08L422.42,140.82L424.90,140.54L427.37,140.25L429.85,139.95L432.32,139.63L434.80,139.30L437.27,138.95L439.75,138.59L442.22,138.22L444.70,137.83L447.17,137.43L449.65,137.02L452.12,136.59L454.59,136.15L457.07,135.69L459.54,135.23L462.02,134.75L464.49,134.25L466.97,133.75L469.44,133.23L471.92,132.70L474.39,132.16L476.87,131.61L479.34,131.04L481.81,130.46L484.29,129.87L486.76,129.27L489.24,128.66L491.71,128.03L494.19,127.40L496.66,126.75L499.14,126.10L501.61,125.43L504.08,124.75L506.56,124.06L509.03,123.37L511.51,122.66L513.98,121.94L516.46,121.21L518.93,120.48L521.40,119.73L523.88,118.98L526.35,118.21L528.83,117.44L531.30,116.66L533.78,115.87L536.25,115.08L538.72,114.27L541.20,113.46L543.67,112.64L546.15,111.81L548.62,110.98L551.09,110.14L553.57,109.29L556.04,108.43L558.52,107.57L560.99,106.71L563.47,105.84L565.94,104.96L568.41,104.08L570.89,103.19L573.36,102.29L575.84,101.40L578.31,100.49L580.78,99.59L583.26,98.68L585.73,97.76L588.21,96.85L590.68,95.93L593.15,95.00L595.63,94.07L598.10,93.14L600.58,92.21L603.05,91.28L605.52,90.34L608.00,89.40L610.47,88.47L612.94,87.52L615.42,86.58L617.89,85.64L620.37,84.70L622.84,83.75L625.31,82.81L627.79,81.87L630.26,80.93L632.74,79.98L635.21,79.04L637.68,78.10L640.16,77.16L642.63,76.23L645.10,75.29L647.58,74.36L650.05,73.43L652.52,72.50L655.00,71.57L657.47,70.65L659.95,69.73L662.42,68.81L664.89,67.90L667.37,66.99L669.84,66.09L672.31,65.19L674.79,64.29L677.26,63.40L679.73,62.51L682.21,61.63L684.68,60.76L687.15,59.89L689.63,59.02L692.10,58.16L694.58,57.31L697.05,56.47L699.52,55.63L702.00,54.80L704.47,53.97L706.94,53.16L709.42,52.35L711.89,51.54L714.36,50.75L716.84,49.96L719.31,49.19L721.78,48.42L724.26,47.66L726.73,46.91L729.20,46.16L731.68,45.43L734.15,44.71L736.62,43.99L739.10,43.29L741.57,42.59L744.04,41.91L746.52,41.24L748.99,40.57L751.46,39.92L753.94,39.28L756.41,38.65L758.88,38.03L761.35,37.42L763.83,36.82L766.30,36.24L768.77,35.66L771.25,35.10L773.72,34.55L776.19,34.01L778.67,33.49L781.14,32.97L783.61,32.47L786.09,31.99L788.56,31.51L791.03,31.05L793.51,30.60L795.98,30.16L798.45,29.74L800.92,29.33L803.40,28.94L805.87,28.55L808.34,28.18L810.82,27.83L813.29,27.49L815.76,27.16L818.24,26.85L820.71,26.55L823.18,26.26L825.65,25.99L828.13,25.73L830.60,25.49L833.07,25.26L835.55,25.05L838.02,24.85L840.49,24.67L842.96,24.50L845.44,24.34L847.91,24.20L850.38,24.07L852.86,23.96L855.33,23.87L857.80,23.79L860.28,23.72L862.75,23.67L865.22,23.63L867.69,23.61L870.17,23.60L873.09,23.60L876.01,23.62L878.93,23.66L881.86,23.73L884.78,23.81L887.70,23.92L890.62,24.06L893.54,24.21L896.46,24.39L899.37,24.59L902.29,24.81L905.20,25.05L908.11,25.32L911.02,25.61L913.93,25.92L916.83,26.25L919.73,26.60L922.63,26.98L925.53,27.38L928.42,27.80L931.31,28.25L934.19,28.71L937.07,29.20L939.95,29.71L942.82,30.24L945.69,30.79L948.56,31.37L951.42,31.97L954.27,32.59L957.12,33.23L959.97,33.89L962.81,34.58L965.64,35.28L968.47,36.01L971.29,36.76L974.11,37.53L976.92,38.32L979.72,39.14L982.52,39.97L985.31,40.83L988.09,41.71L990.87,42.61L993.64,43.53L996.40,44.47L999.15,45.44L1001.90,46.42L1004.63,47.43L1007.36,48.45L1010.09,49.50L1012.80,50.57L1015.49,51.68L1018.18,52.82L1020.85,53.97L1023.52,55.15L1026.17,56.34L1028.82,57.56L1031.46,58.80L1034.08,60.05L1036.70,61.33L1039.30,62.62L1041.90,63.94L1044.48,65.27L1047.06,66.63L1049.62,68.00L1052.17,69.40L1054.71,70.81L1057.23,72.24L1059.75,73.70L1062.25,75.17L1064.74,76.66L1067.22,78.17L1069.69,79.70L1072.14,81.24L1074.59,82.81L1077.01,84.39L1079.43,85.99L1081.83,87.61L1084.22,89.25L1086.60,90.91L1088.96,92.59L1091.31,94.28L1093.64,95.99L1095.96,97.72L1098.27,99.47L1100.56,101.23L1102.84,103.01L1105.10,104.81L1107.35,106.63L1109.58,108.46L1111.80,110.31L1114.01,112.18L1116.19,114.06L1118.37,115.96L1120.52,117.88L1122.67,119.81L1124.79,121.76L1126.90,123.72L1128.99,125.70L1131.07,127.70L1133.13,129.72L1135.17,131.75L1137.19,133.80L1139.19,135.87L1141.18,137.95L1143.15,140.05L1145.10,142.16L1147.04,144.28L1148.96,146.42L1150.86,148.58L1152.74,150.75L1154.60,152.93L1156.45,155.13L1158.28,157.34L1160.09,159.57L1161.89,161.80L1163.66,164.06L1165.42,166.32L1167.15,168.60L1168.87,170.89L1170.57,173.20L1172.25,175.52L1173.92,177.85L1175.56,180.19L1177.18,182.54L1178.79,184.91L1180.37,187.29L1181.94,189.68L1183.49,192.08L1185.01,194.50L1186.52,196.92L1188.01,199.36L1189.48,201.81L1190.92,204.27L1192.35,206.74L1193.76,209.22L1195.15,211.71L1196.51,214.21L1197.86,216.72L1199.19,219.25L1200.49,221.78L1201.77,224.32L1203.04,226.87L1204.28,229.43L1205.50,232.00L1206.71,234.58L1207.89,237.17L1209.04,239.76L1210.18,242.37L1211.30,244.98L1212.40,247.60L1213.48,250.23L1214.53,252.87L1215.57,255.51L1216.59,258.16L1217.58,260.82L1218.55,263.49L1219.50,266.16L1220.43,268.84L1221.34,271.53L1222.22,274.22L1223.08,276.92L1223.93,279.63L1224.74,282.34L1225.54,285.06L1226.32,287.78L1227.07,290.51L1227.80,293.25L1228.51,295.99L1229.19,298.74L1229.86,301.49L1230.50,304.25L1231.12,307.01L1231.71,309.77L1232.29,312.54L1232.84,315.32L1233.37,318.10L1233.87,320.88L1234.36,323.66L1234.82,326.45L1235.26,329.24L1235.67,332.04L1236.06,334.84L1236.44,337.64L1236.78,340.44L1237.11,343.25L1237.41,346.06L1237.69,348.87L1237.94,351.68L1238.18,354.49L1238.39,357.31L1238.58,360.13L1238.74,362.94L1238.88,365.76L1239.00,368.58L1239.10,371.40L1239.17,374.22L1239.22,377.05L1239.25,379.87L1239.26,382.69L1239.24,385.51L1239.21,388.33L1239.16,391.15L1239.08,393.97L1238.98,396.79L1238.85,399.61L1238.71,402.43L1238.54,405.24L1238.35,408.06L1238.13,410.87L1237.90,413.68L1237.63,416.49L1237.35,419.30L1237.05,422.10L1236.72,424.91L1236.37,427.70L1235.99,430.50L1235.60,433.30L1235.18,436.09L1234.74,438.87L1234.27,441.66L1233.78,444.44L1233.27,447.21L1232.74,449.98L1232.19,452.75L1231.61,455.52L1231.01,458.27L1230.39,461.03L1229.75,463.78L1229.08,466.52L1228.39,469.26L1227.68,471.99L1226.95,474.72L1226.20,477.44L1225.42,480.16L1224.62,482.87L1223.80,485.57L1222.96,488.27L1222.09,490.96L1221.21,493.64L1220.30,496.32L1219.37,498.99L1218.42,501.65L1217.45,504.31L1216.45,506.96L1215.44,509.60L1214.40,512.23L1213.34,514.85L1212.26,517.47L1211.16,520.08L1210.04,522.67L1208.90,525.26L1207.73,527.85L1206.55,530.42L1205.35,532.98L1204.12,535.53L1202.87,538.08L1201.61,540.61L1200.32,543.14L1199.01,545.65L1197.68,548.16L1196.33,550.65L1194.97,553.13L1193.58,555.61L1192.17,558.07L1190.74,560.52L1189.29,562.96L1187.82,565.39L1186.34,567.81L1184.83,570.21L1183.30,572.61L1181.76,574.99L1180.19,577.36L1178.61,579.72L1177.00,582.07L1175.38,584.40L1173.74,586.72L1172.08,589.03L1170.40,591.33L1168.70,593.61L1166.99,595.88L1165.25,598.14L1163.50,600.38L1161.73,602.61L1159.94,604.83L1158.14,607.03L1156.31,609.22L1154.47,611.39L1152.61,613.55L1150.74,615.70L1148.84,617.83L1146.93,619.95L1145.01,622.05L1143.06,624.14L1141.10,626.21L1139.12,628.27L1137.13,630.31L1135.11,632.34L1133.09,634.35L1131.04,636.34L1128.99,638.33L1126.92,640.30L1124.83,642.25L1122.73,644.19L1120.61,646.11L1118.48,648.02L1116.33,649.91L1114.17,651.78L1111.99,653.64L1109.79,655.48L1107.58,657.30L1105.36,659.11L1103.12,660.89L1100.87,662.67L1098.60,664.42L1096.32,666.16L1094.03,667.88L1091.72,669.58L1089.40,671.26L1087.06,672.93L1084.71,674.58L1082.35,676.21L1079.97,677.82L1077.58,679.42L1075.18,680.99L1072.77,682.55L1070.34,684.09L1067.90,685.61L1065.45,687.11L1062.99,688.59L1060.51,690.06L1058.02,691.50L1055.52,692.93L1053.01,694.34L1050.49,695.72L1047.96,697.09L1045.41,698.44L1042.86,699.77L1040.29,701.08L1037.71,702.37L1035.13,703.64L1032.53,704.89L1029.92,706.12L1027.31,707.33L1024.68,708.53L1022.04,709.70L1019.40,710.85L1016.74,711.98L1014.08,713.09L1011.41,714.18L1008.72,715.25L1006.03,716.29L1003.33,717.32L1000.63,718.33L997.91,719.32L995.19,720.28L992.46,721.23L989.72,722.15L986.97,723.05L984.22,723.94L981.46,724.80L978.69,725.64L975.92,726.45L973.14,727.25L970.35,728.03L967.56,728.78L964.76,729.52L961.96,730.23L959.15,730.92L956.33,731.59L953.51,732.24L950.68,732.86L947.85,733.47L945.02,734.05L942.18,734.61L939.33,735.15L936.48,735.67L933.63,736.16L930.77,736.63L927.91,737.09L925.04,737.52L922.17,737.92L919.30,738.31L916.43,738.67L913.55,739.02L910.67,739.34L907.79,739.64L904.90,739.91L902.02,740.17L899.13,740.40L896.24,740.61L893.34,740.80L890.45,740.96L887.55,741.10L884.66,741.23L881.76,741.32L878.86,741.40L875.96,741.46L873.07,741.49L870.17,741.50L867.69,741.49L865.22,741.47L862.75,741.43L860.28,741.38L857.80,741.31L855.33,741.23L852.86,741.14L850.38,741.03L847.91,740.90L845.44,740.76L842.96,740.60L840.49,740.43L838.02,740.25L835.55,740.05L833.07,739.84L830.60,739.61L828.13,739.37L825.65,739.11L823.18,738.84L820.71,738.55L818.24,738.25L815.76,737.94L813.29,737.61L810.82,737.27L808.34,736.92L805.87,736.55L803.40,736.16L800.92,735.77L798.45,735.36L795.98,734.94L793.51,734.50L791.03,734.05L788.56,733.59L786.09,733.11L783.61,732.63L781.14,732.13L778.67,731.61L776.19,731.09L773.72,730.55L771.25,730.00L768.77,729.44L766.30,728.86L763.83,728.28L761.35,727.68L758.88,727.07L756.41,726.45L753.94,725.82L751.46,725.18L748.99,724.53L746.52,723.86L744.04,723.19L741.57,722.51L739.10,721.81L736.62,721.11L734.15,720.39L731.68,719.67L729.20,718.94L726.73,718.19L724.26,717.44L721.78,716.68L719.31,715.91L716.84,715.14L714.36,714.35L711.89,713.56L709.42,712.75L706.94,711.94L704.47,711.13L702.00,710.30L699.52,709.47L697.05,708.63L694.58,707.79L692.10,706.94L689.63,706.08L687.15,705.21L684.68,704.34L682.21,703.47L679.73,702.59L677.26,701.70L674.79,700.81L672.31,699.91L669.84,699.01L667.37,698.11L664.89,697.20L662.42,696.29L659.95,695.37L657.47,694.45L655.00,693.53L652.52,692.60L650.05,691.67L647.58,690.74L645.10,689.81L642.63,688.87L640.16,687.94L637.68,687.00L635.21,686.06L632.74,685.12L630.26,684.17L627.79,683.23L625.31,682.29L622.84,681.35L620.37,680.40L617.89,679.46L615.42,678.52L612.94,677.58L610.47,676.63L608.00,675.70L605.52,674.76L603.05,673.82L600.58,672.89L598.10,671.96L595.63,671.03L593.15,670.10L590.68,669.17L588.21,668.25L585.73,667.34L583.26,666.42L580.78,665.51L578.31,664.61L575.84,663.70L573.36,662.81L570.89,661.91L568.41,661.02L565.94,660.14L563.47,659.26L560.99,658.39L558.52,657.53L556.04,656.67L553.57,655.81L551.09,654.96L548.62,654.12L546.15,653.29L543.67,652.46L541.20,651.64L538.72,650.83L536.25,650.02L533.78,649.23L531.30,648.44L528.83,647.66L526.35,646.89L523.88,646.12L521.40,645.37L518.93,644.62L516.46,643.89L513.98,643.16L511.51,642.44L509.03,641.73L506.56,641.04L504.08,640.35L501.61,639.67L499.14,639.00L496.66,638.35L494.19,637.70L491.71,637.07L489.24,636.44L486.76,635.83L484.29,635.23L481.81,634.64L479.34,634.06L476.87,633.49L474.39,632.94L471.92,632.40L469.44,631.87L466.97,631.35L464.49,630.85L462.02,630.35L459.54,629.87L457.07,629.41L454.59,628.95L452.12,628.51L449.65,628.08L447.17,627.67L444.70,627.27L442.22,626.88L439.75,626.51L437.27,626.15L434.80,625.80L432.32,625.47L429.85,625.15L427.37,624.85L424.90,624.56L422.42,624.28L419.95,624.02L417.48,623.77L415.00,623.54L412.53,623.32L410.05,623.12L407.58,622.93L405.10,622.75L402.63,622.59L400.15,622.45L397.68,622.32L395.20,622.20L392.73,622.10L390.25,622.01L387.78,621.94L385.30,621.88L382.83,621.84L380.36,621.81L377.88,621.80L375.41,621.80L372.93,621.82L370.46,621.85L367.98,621.90L365.51,621.96L363.03,622.04L360.56,622.13L358.08,622.24L355.61,622.36L353.13,622.49L350.66,622.64L348.18,622.81L345.71,622.99L343.23,623.18L340.76,623.39L338.29,623.62L335.81,623.85L333.34,624.11L330.86,624.37L328.39,624.65L325.91,624.95L323.44,625.26L320.96,625.58L318.49,625.92L316.01,626.27L313.54,626.63L311.06,627.01L308.59,627.40L306.12,627.81L303.64,628.23L301.17,628.67L298.69,629.14L296.22,629.62L293.74,630.11L291.27,630.62L288.80,631.14L286.32,631.67L283.85,632.22L281.37,632.78L278.90,633.35L276.43,633.93L273.95,634.52L271.48,635.13L269.00,635.75L266.53,636.37L264.06,637.02L261.58,637.67L259.11,638.33L256.64,639.00L254.16,639.69L251.69,640.38L249.21,641.09L246.74,641.80L244.27,642.53L241.79,643.26L239.32,644.01L236.85,644.76L234.37,645.53L231.90,646.30L229.43,647.08L226.95,647.87L224.48,648.67L222.01,649.48L219.53,650.29L217.06,651.12L214.59,651.95L212.11,652.79L209.64,653.64L207.17,654.49L204.69,655.35L202.22,656.22L199.75,657.09L197.27,657.97L194.80,658.86L192.33,659.75L189.85,660.65L187.38,661.56L184.91,662.47L182.43,663.38L179.96,664.30L177.49,665.22L175.01,666.15L172.54,667.08L170.07,668.02L167.60,668.96L165.12,669.90L162.65,670.85L160.18,671.80L157.70,672.75L155.23,673.71L152.76,674.67L150.28,675.63L147.81,676.59L145.34,677.55L142.87,678.51L140.39,679.48L137.92,680.45L135.45,681.41L132.97,682.38L130.50,683.35" stroke="#000000" stroke-width="5.6" stroke-dasharray="20.5 20.83" stroke-dashoffset="25.1"/>
<path d="M130.50,84.85L132.97,85.77L135.45,86.69L137.92,87.61L140.40,88.53L142.87,89.45L145.34,90.36L147.82,91.28L150.29,92.19L152.76,93.11L155.24,94.02L157.71,94.92L160.19,95.83L162.66,96.73L165.13,97.63L167.61,98.53L170.08,99.42L172.55,100.31L175.03,101.19L177.50,102.07L179.98,102.95L182.45,103.82L184.92,104.69L187.40,105.55L189.87,106.41L192.35,107.26L194.82,108.10L197.29,108.94L199.77,109.78L202.24,110.60L204.71,111.42L207.19,112.24L209.66,113.05L212.14,113.85L214.61,114.64L217.08,115.42L219.56,116.20L222.03,116.97L224.50,117.73L226.98,118.48L229.45,119.23L231.93,119.96L234.40,120.69L236.87,121.40L239.35,122.11L241.82,122.81L244.29,123.50L246.77,124.18L249.24,124.85L251.72,125.51L254.19,126.15L256.66,126.79L259.14,127.42L261.61,128.04L264.09,128.64L266.56,129.24L269.03,129.82L271.51,130.39L273.98,130.95L276.45,131.50L278.93,132.03L281.40,132.56L283.88,133.07L286.35,133.57L288.82,134.06L291.30,134.53L293.77,134.99L296.24,135.44L298.72,135.88L301.19,136.30L303.67,136.73L306.14,137.14L308.61,137.55L311.09,137.94L313.56,138.32L316.04,138.68L318.51,139.03L320.98,139.37L323.46,139.69L325.93,140.00L328.40,140.30L330.88,140.58L333.35,140.84L335.83,141.10L338.30,141.33L340.77,141.56L343.25,141.77L345.72,141.96L348.19,142.14L350.67,142.31L353.14,142.46L355.62,142.59L358.09,142.71L360.56,142.82L363.04,142.91L365.51,142.99L367.98,143.05L370.46,143.10L372.93,143.13L375.41,143.15L377.88,143.15L380.35,143.14L382.83,143.11L385.30,143.07L387.78,143.01L390.25,142.94L392.72,142.85L395.20,142.75L397.67,142.63L400.14,142.50L402.62,142.36L405.09,142.20L407.57,142.02L410.04,141.83L412.51,141.63L414.99,141.41L417.46,141.18L419.93,140.93L422.41,140.67L424.88,140.39L427.36,140.10L429.83,139.80L432.30,139.48L434.78,139.15L437.25,138.80L439.73,138.44L442.20,138.07L444.67,137.68L447.15,137.28L449.62,136.87L452.09,136.44L454.57,136.00L457.04,135.55L459.52,135.08L461.99,134.60L464.46,134.11L466.94,133.60L469.41,133.09L471.88,132.56L474.36,132.01L476.83,131.46L479.31,130.89L481.78,130.32L484.25,129.73L486.73,129.13L489.20,128.51L491.68,127.89L494.15,127.25L496.62,126.61L499.10,125.95L501.57,125.29L504.04,124.61L506.52,123.92L508.99,123.22L511.47,122.52L513.94,121.80L516.41,121.07L518.89,120.33L521.36,119.59L523.83,118.83L526.31,118.07L528.78,117.30L531.26,116.52L533.73,115.73L536.20,114.93L538.68,114.13L541.15,113.32L543.62,112.50L546.10,111.67L548.57,110.83L551.05,109.99L553.52,109.15L555.99,108.29L558.47,107.43L560.94,106.57L563.42,105.69L565.89,104.82L568.36,103.93L570.84,103.05L573.31,102.15L575.78,101.26L578.26,100.35L580.73,99.45L583.21,98.54L585.68,97.62L588.15,96.71L590.63,95.78L593.10,94.86L595.57,93.93L598.05,93.00L600.52,92.07L603.00,91.14L605.47,90.20L607.94,89.26L610.42,88.32L612.89,87.38L615.37,86.44L617.84,85.50L620.31,84.56L622.79,83.61L625.26,82.67L627.73,81.73L630.21,80.79L632.68,79.84L635.16,78.90L637.63,77.96L640.10,77.02L642.58,76.09L645.05,75.15L647.52,74.22L650.00,73.29L652.47,72.36L654.95,71.43L657.42,70.51L659.89,69.59L662.37,68.67L664.84,67.76L667.31,66.85L669.79,65.95L672.26,65.04L674.74,64.15L677.21,63.26L679.68,62.37L682.16,61.49L684.63,60.61L687.11,59.74L689.58,58.88L692.05,58.02L694.53,57.17L697.00,56.32L699.47,55.49L701.95,54.65L704.42,53.83L706.90,53.01L709.37,52.20L711.84,51.40L714.32,50.61L716.79,49.82L719.26,49.04L721.74,48.27L724.21,47.51L726.69,46.76L729.16,46.02L731.63,45.29L734.11,44.56L736.58,43.85L739.06,43.14L741.53,42.45L744.00,41.76L746.48,41.09L748.95,40.43L751.42,39.77L753.90,39.13L756.37,38.50L758.85,37.88L761.32,37.27L763.79,36.68L766.27,36.09L768.74,35.52L771.21,34.95L773.69,34.40L776.16,33.87L778.64,33.34L781.11,32.83L783.58,32.33L786.06,31.84L788.53,31.36L791.01,30.90L793.48,30.45L795.95,30.02L798.43,29.59L800.90,29.18L803.37,28.79L805.85,28.40L808.32,28.04L810.80,27.68L813.27,27.34L815.74,27.01L818.22,26.70L820.69,26.40L823.16,26.11L825.64,25.84L828.11,25.59L830.59,25.34L833.06,25.11L835.53,24.90L838.01,24.70L840.48,24.52L842.95,24.35L845.43,24.19L847.90,24.05L850.38,23.93L852.85,23.81L855.32,23.72L857.80,23.64L860.27,23.57L862.75,23.52L865.22,23.48L867.69,23.46L870.17,23.45L873.09,23.45L876.01,23.47L878.94,23.51L881.86,23.58L884.78,23.66L887.71,23.77L890.63,23.91L893.55,24.06L896.47,24.24L899.38,24.44L902.30,24.66L905.21,24.90L908.13,25.17L911.04,25.46L913.94,25.77L916.85,26.10L919.75,26.46L922.65,26.83L925.55,27.23L928.44,27.65L931.33,28.10L934.22,28.56L937.10,29.05L939.98,29.56L942.85,30.09L945.72,30.65L948.59,31.22L951.45,31.82L954.31,32.44L957.16,33.08L960.00,33.74L962.84,34.43L965.68,35.14L968.51,35.86L971.33,36.62L974.15,37.39L976.96,38.18L979.76,38.99L982.56,39.83L985.35,40.69L988.14,41.57L990.91,42.47L993.68,43.39L996.45,44.33L999.20,45.30L1001.95,46.28L1004.69,47.29L1007.42,48.31L1010.14,49.36L1012.85,50.43L1015.55,51.55L1018.24,52.68L1020.91,53.84L1023.58,55.01L1026.24,56.21L1028.88,57.42L1031.52,58.66L1034.15,59.92L1036.76,61.19L1039.37,62.49L1041.97,63.81L1044.55,65.14L1047.13,66.50L1049.69,67.87L1052.24,69.27L1054.78,70.68L1057.31,72.11L1059.82,73.57L1062.33,75.04L1064.82,76.53L1067.30,78.04L1069.77,79.57L1072.22,81.12L1074.67,82.68L1077.10,84.27L1079.51,85.87L1081.92,87.49L1084.31,89.13L1086.68,90.79L1089.05,92.46L1091.40,94.16L1093.73,95.87L1096.05,97.60L1098.36,99.35L1100.65,101.11L1102.93,102.89L1105.20,104.69L1107.45,106.51L1109.68,108.34L1111.90,110.19L1114.10,112.06L1116.29,113.95L1118.47,115.85L1120.62,117.76L1122.77,119.70L1124.89,121.65L1127.00,123.61L1129.10,125.60L1131.18,127.59L1133.24,129.61L1135.27,131.64L1137.30,133.70L1139.30,135.76L1141.29,137.85L1143.26,139.94L1145.21,142.06L1147.15,144.18L1149.07,146.32L1150.97,148.48L1152.85,150.65L1154.72,152.83L1156.57,155.03L1158.40,157.24L1160.21,159.47L1162.00,161.71L1163.78,163.96L1165.53,166.23L1167.27,168.51L1168.99,170.80L1170.69,173.11L1172.38,175.43L1174.04,177.76L1175.68,180.10L1177.31,182.46L1178.91,184.83L1180.50,187.21L1182.07,189.60L1183.61,192.00L1185.14,194.42L1186.65,196.84L1188.14,199.28L1189.61,201.73L1191.05,204.19L1192.48,206.66L1193.89,209.15L1195.28,211.64L1196.64,214.14L1197.99,216.65L1199.32,219.18L1200.62,221.71L1201.91,224.25L1203.17,226.80L1204.42,229.36L1205.64,231.94L1206.84,234.52L1208.02,237.10L1209.18,239.70L1210.32,242.31L1211.44,244.92L1212.53,247.54L1213.61,250.17L1214.67,252.81L1215.71,255.45L1216.73,258.11L1217.72,260.77L1218.69,263.43L1219.64,266.11L1220.57,268.79L1221.48,271.48L1222.36,274.17L1223.23,276.87L1224.07,279.58L1224.89,282.30L1225.69,285.02L1226.46,287.74L1227.21,290.47L1227.94,293.21L1228.65,295.95L1229.34,298.70L1230.00,301.45L1230.64,304.21L1231.26,306.97L1231.86,309.74L1232.43,312.51L1232.99,315.29L1233.51,318.07L1234.02,320.85L1234.50,323.64L1234.97,326.43L1235.40,329.22L1235.82,332.02L1236.21,334.82L1236.58,337.62L1236.93,340.42L1237.26,343.23L1237.56,346.04L1237.84,348.85L1238.09,351.67L1238.33,354.48L1238.54,357.30L1238.73,360.12L1238.89,362.93L1239.03,365.76L1239.15,368.58L1239.25,371.40L1239.32,374.22L1239.37,377.04L1239.40,379.87L1239.41,382.69L1239.39,385.51L1239.36,388.33L1239.31,391.16L1239.23,393.98L1239.13,396.80L1239.00,399.62L1238.86,402.44L1238.69,405.25L1238.50,408.07L1238.28,410.88L1238.04,413.70L1237.78,416.51L1237.50,419.31L1237.20,422.12L1236.87,424.92L1236.52,427.72L1236.14,430.52L1235.74,433.32L1235.33,436.11L1234.88,438.90L1234.42,441.68L1233.93,444.46L1233.42,447.24L1232.89,450.01L1232.34,452.78L1231.76,455.55L1231.16,458.31L1230.54,461.06L1229.89,463.81L1229.23,466.56L1228.54,469.30L1227.83,472.03L1227.09,474.76L1226.34,477.48L1225.56,480.20L1224.76,482.91L1223.94,485.62L1223.10,488.31L1222.24,491.01L1221.35,493.69L1220.44,496.37L1219.51,499.04L1218.56,501.70L1217.59,504.36L1216.59,507.01L1215.58,509.65L1214.54,512.28L1213.48,514.91L1212.40,517.53L1211.30,520.13L1210.18,522.73L1209.04,525.32L1207.87,527.91L1206.69,530.48L1205.48,533.04L1204.25,535.60L1203.01,538.14L1201.74,540.68L1200.45,543.20L1199.14,545.72L1197.82,548.23L1196.47,550.72L1195.10,553.21L1193.71,555.68L1192.30,558.14L1190.87,560.60L1189.42,563.04L1187.95,565.47L1186.46,567.89L1184.96,570.29L1183.43,572.69L1181.88,575.07L1180.32,577.44L1178.73,579.80L1177.13,582.15L1175.50,584.49L1173.86,586.81L1172.20,589.12L1170.52,591.42L1168.82,593.70L1167.11,595.97L1165.37,598.23L1163.62,600.47L1161.85,602.70L1160.06,604.92L1158.25,607.12L1156.43,609.31L1154.59,611.49L1152.73,613.65L1150.85,615.80L1148.96,617.93L1147.04,620.05L1145.12,622.15L1143.17,624.24L1141.21,626.31L1139.23,628.37L1137.23,630.41L1135.22,632.44L1133.19,634.45L1131.15,636.45L1129.09,638.43L1127.02,640.41L1124.93,642.36L1122.83,644.30L1120.71,646.22L1118.58,648.13L1116.43,650.02L1114.26,651.89L1112.08,653.75L1109.89,655.59L1107.68,657.42L1105.46,659.22L1103.22,661.01L1100.96,662.78L1098.70,664.54L1096.41,666.28L1094.12,668.00L1091.81,669.70L1089.48,671.39L1087.15,673.05L1084.80,674.70L1082.43,676.33L1080.06,677.95L1077.67,679.54L1075.26,681.12L1072.85,682.68L1070.42,684.22L1067.98,685.74L1065.53,687.24L1063.06,688.72L1060.59,690.19L1058.10,691.63L1055.60,693.06L1053.08,694.47L1050.56,695.86L1048.03,697.23L1045.48,698.57L1042.93,699.90L1040.36,701.22L1037.78,702.51L1035.19,703.78L1032.60,705.03L1029.99,706.26L1027.37,707.47L1024.74,708.66L1022.10,709.83L1019.46,710.98L1016.80,712.12L1014.14,713.23L1011.46,714.32L1008.78,715.38L1006.09,716.43L1003.39,717.46L1000.68,718.47L997.96,719.46L995.24,720.42L992.51,721.37L989.77,722.29L987.02,723.20L984.27,724.08L981.51,724.94L978.74,725.78L975.96,726.60L973.18,727.40L970.39,728.17L967.60,728.93L964.80,729.66L961.99,730.37L959.18,731.06L956.37,731.73L953.54,732.38L950.72,733.01L947.88,733.61L945.05,734.19L942.20,734.76L939.36,735.30L936.51,735.81L933.65,736.31L930.79,736.78L927.93,737.23L925.06,737.66L922.19,738.07L919.32,738.46L916.45,738.82L913.57,739.17L910.69,739.49L907.80,739.78L904.92,740.06L902.03,740.31L899.14,740.55L896.25,740.76L893.35,740.94L890.46,741.11L887.56,741.25L884.66,741.38L881.77,741.47L878.87,741.55L875.97,741.61L873.07,741.64L870.17,741.65L867.69,741.64L865.22,741.62L862.75,741.58L860.27,741.53L857.80,741.46L855.32,741.38L852.85,741.29L850.38,741.17L847.90,741.05L845.43,740.91L842.95,740.75L840.48,740.58L838.01,740.40L835.53,740.20L833.06,739.99L830.59,739.76L828.11,739.51L825.64,739.26L823.16,738.99L820.69,738.70L818.22,738.40L815.74,738.09L813.27,737.76L810.80,737.42L808.32,737.06L805.85,736.70L803.37,736.31L800.90,735.92L798.43,735.51L795.95,735.08L793.48,734.65L791.01,734.20L788.53,733.74L786.06,733.26L783.58,732.77L781.11,732.27L778.64,731.76L776.16,731.23L773.69,730.70L771.21,730.15L768.74,729.58L766.27,729.01L763.79,728.42L761.32,727.83L758.85,727.22L756.37,726.60L753.90,725.97L751.42,725.33L748.95,724.67L746.48,724.01L744.00,723.34L741.53,722.65L739.06,721.96L736.58,721.25L734.11,720.54L731.63,719.81L729.16,719.08L726.69,718.34L724.21,717.59L721.74,716.83L719.26,716.06L716.79,715.28L714.32,714.49L711.84,713.70L709.37,712.90L706.90,712.09L704.42,711.27L701.95,710.45L699.47,709.61L697.00,708.78L694.53,707.93L692.05,707.08L689.58,706.22L687.11,705.36L684.63,704.49L682.16,703.61L679.68,702.73L677.21,701.84L674.74,700.95L672.26,700.06L669.79,699.15L667.31,698.25L664.84,697.34L662.37,696.43L659.89,695.51L657.42,694.59L654.95,693.67L652.47,692.74L650.00,691.81L647.52,690.88L645.05,689.95L642.58,689.01L640.10,688.08L637.63,687.14L635.16,686.20L632.68,685.26L630.21,684.31L627.73,683.37L625.26,682.43L622.79,681.49L620.31,680.54L617.84,679.60L615.37,678.66L612.89,677.72L610.42,676.78L607.94,675.84L605.47,674.90L603.00,673.96L600.52,673.03L598.05,672.10L595.57,671.17L593.10,670.24L590.63,669.32L588.15,668.39L585.68,667.48L583.21,666.56L580.73,665.65L578.26,664.75L575.78,663.84L573.31,662.95L570.84,662.05L568.36,661.17L565.89,660.28L563.42,659.41L560.94,658.53L558.47,657.67L555.99,656.81L553.52,655.95L551.05,655.11L548.57,654.27L546.10,653.43L543.62,652.60L541.15,651.78L538.68,650.97L536.20,650.17L533.73,649.37L531.26,648.58L528.78,647.80L526.31,647.03L523.83,646.27L521.36,645.51L518.89,644.77L516.41,644.03L513.94,643.30L511.47,642.58L508.99,641.88L506.52,641.18L504.04,640.49L501.57,639.81L499.10,639.15L496.62,638.49L494.15,637.85L491.68,637.21L489.20,636.59L486.73,635.97L484.25,635.37L481.78,634.78L479.31,634.21L476.83,633.64L474.36,633.09L471.88,632.54L469.41,632.01L466.94,631.50L464.46,630.99L461.99,630.50L459.52,630.02L457.04,629.55L454.57,629.10L452.09,628.66L449.62,628.23L447.15,627.82L444.67,627.42L442.20,627.03L439.73,626.66L437.25,626.30L434.78,625.95L432.30,625.62L429.83,625.30L427.36,625.00L424.88,624.71L422.41,624.43L419.93,624.17L417.46,623.92L414.99,623.69L412.51,623.47L410.04,623.27L407.57,623.08L405.09,622.90L402.62,622.74L400.14,622.60L397.67,622.47L395.20,622.35L392.72,622.25L390.25,622.16L387.78,622.09L385.30,622.03L382.83,621.99L380.35,621.96L377.88,621.95L375.41,621.95L372.93,621.97L370.46,622.00L367.98,622.05L365.51,622.11L363.04,622.19L360.56,622.28L358.09,622.39L355.62,622.51L353.14,622.64L350.67,622.79L348.19,622.96L345.72,623.14L343.25,623.33L340.77,623.54L338.30,623.77L335.83,624.00L333.35,624.26L330.88,624.52L328.40,624.80L325.93,625.10L323.46,625.41L320.98,625.73L318.51,626.07L316.04,626.42L313.56,626.78L311.09,627.16L308.61,627.55L306.14,627.96L303.67,628.37L301.19,628.81L298.72,629.28L296.24,629.76L293.77,630.25L291.30,630.76L288.82,631.28L286.35,631.81L283.88,632.35L281.40,632.91L278.93,633.47L276.45,634.05L273.98,634.65L271.51,635.25L269.03,635.86L266.56,636.49L264.09,637.13L261.61,637.78L259.14,638.44L256.66,639.11L254.19,639.79L251.72,640.48L249.24,641.19L246.77,641.90L244.29,642.62L241.82,643.36L239.35,644.10L236.87,644.85L234.40,645.61L231.93,646.38L229.45,647.16L226.98,647.95L224.50,648.75L222.03,649.56L219.56,650.37L217.08,651.19L214.61,652.02L212.14,652.86L209.66,653.70L207.19,654.55L204.71,655.41L202.24,656.28L199.77,657.15L197.29,658.03L194.82,658.91L192.35,659.81L189.87,660.70L187.40,661.60L184.92,662.51L182.45,663.42L179.98,664.34L177.50,665.26L175.03,666.19L172.55,667.12L170.08,668.05L167.61,668.99L165.13,669.93L162.66,670.88L160.19,671.82L157.71,672.78L155.24,673.73L152.76,674.68L150.29,675.64L147.82,676.60L145.34,677.56L142.87,678.52L140.40,679.49L137.92,680.45L135.45,681.42L132.97,682.38L130.50,683.35" stroke="#0000ff" stroke-width="4.2"/>
</g>
<g font-family='"Liberation Serif", "DejaVu Serif", serif' font-size="41.5" fill="#262626" stroke="#fff" stroke-width="0.3">
<text x="119.59" y="816.20" textLength="21.82" lengthAdjust="spacingAndGlyphs" font-size="42.3">0</text>
<text x="220.84" y="816.20" textLength="63.75" lengthAdjust="spacingAndGlyphs" font-size="42.3">100</text>
<text x="346.05" y="816.20" textLength="61.78" lengthAdjust="spacingAndGlyphs" font-size="42.3">200</text>
<text x="469.16" y="816.20" textLength="61.95" lengthAdjust="spacingAndGlyphs" font-size="42.3">300</text>
<text x="593.62" y="816.20" textLength="60.73" lengthAdjust="spacingAndGlyphs" font-size="42.3">400</text>
<text x="715.27" y="816.20" textLength="62.40" lengthAdjust="spacingAndGlyphs" font-size="42.3">500</text>
<text x="839.20" y="816.20" textLength="61.74" lengthAdjust="spacingAndGlyphs" font-size="42.3">600</text>
<text x="961.49" y="816.20" textLength="62.75" lengthAdjust="spacingAndGlyphs" font-size="42.3">700</text>
<text x="1085.96" y="816.20" textLength="61.52" lengthAdjust="spacingAndGlyphs" font-size="42.3">800</text>
<text x="1209.48" y="816.20" textLength="61.27" lengthAdjust="spacingAndGlyphs" font-size="42.3">900</text>
<text x="55.29" y="753.70" textLength="61.78" lengthAdjust="spacingAndGlyphs" font-size="42.3">200</text>
<text x="55.12" y="634.00" textLength="61.95" lengthAdjust="spacingAndGlyphs" font-size="42.3">300</text>
<text x="56.31" y="514.30" textLength="60.73" lengthAdjust="spacingAndGlyphs" font-size="42.3">400</text>
<text x="54.68" y="394.60" textLength="62.40" lengthAdjust="spacingAndGlyphs" font-size="42.3">500</text>
<text x="55.33" y="274.90" textLength="61.74" lengthAdjust="spacingAndGlyphs" font-size="42.3">600</text>
<text x="54.34" y="155.20" textLength="62.75" lengthAdjust="spacingAndGlyphs" font-size="42.3">700</text>
<text x="55.54" y="35.50" textLength="61.52" lengthAdjust="spacingAndGlyphs" font-size="42.3">800</text>
<text transform="translate(647.27,867.70) scale(1.219,1.066)" font-style="italic" stroke-width="0.81">X</text>
<text transform="translate(684.66,867.70) scale(0.900,1.100)" stroke-width="0.40">(</text>
<text transform="translate(696.99,867.70) scale(1.280,0.980)" font-style="italic" stroke-width="0.92">m</text>
<text transform="translate(735.42,867.70) scale(0.891,1.100)" stroke-width="0.40">)</text>
<text transform="translate(32.20,435.95) rotate(-90) scale(1.203,1.066)" font-style="italic" stroke-width="0.78">Y</text>
<text transform="translate(33.80,398.61) rotate(-90) scale(0.938,1.100)" stroke-width="0.40">(</text>
<text transform="translate(32.20,386.92) rotate(-90) scale(1.287,0.980)" font-style="italic" stroke-width="0.93">m</text>
<text transform="translate(33.80,348.07) rotate(-90) scale(0.881,1.100)" stroke-width="0.40">)</text>
</g>
<rect x="138.40" y="148.30" width="482.80" height="211.15" fill="#fff" stroke="#303030" stroke-width="1.3"/>
<path d="M148.6,178.00H226.2" stroke="#00ff00" stroke-width="8.0" stroke-dasharray="31 30.5" fill="none"/>
<path d="M148.6,228.50H226.2" stroke="#ff0000" stroke-width="6.8" stroke-dasharray="20.5 20.5" fill="none"/>
<path d="M148.6,279.50H226.2" stroke="#000000" stroke-width="6.0" stroke-dasharray="21 20" fill="none"/>
<path d="M148.6,329.80H226.2" stroke="#0000ff" stroke-width="4.3"  fill="none"/>
<g font-family='"Liberation Serif", "DejaVu Serif", serif' font-size="41.5" fill="#000" stroke="#fff" stroke-width="0.55">
<text x="233.15" y="187.80" textLength="175.55" lengthAdjust="spacingAndGlyphs">Reference</text>
<text x="421.78" y="187.80" textLength="187.89" lengthAdjust="spacingAndGlyphs">Trajectory</text>
<text x="233.90" y="238.30" textLength="117.49" lengthAdjust="spacingAndGlyphs">Linear</text>
<text x="363.08" y="238.30" textLength="96.43" lengthAdjust="spacingAndGlyphs">MPC</text>
<text x="232.90" y="289.00" textLength="127.79" lengthAdjust="spacingAndGlyphs">NMPC</text>
<text x="232.89" y="339.60" textLength="196.41" lengthAdjust="spacingAndGlyphs">LPV-MPC</text>
</g>
<rect x="724.40" y="282.40" width="292.00" height="210.90" fill="#fff"/>
<g clip-path="url(#ci)"><path d="M870.40,498.80V282.40M729.00,387.85H1016.40" stroke="#8a8a8a" stroke-width="1.6" stroke-dasharray="2.8 7.517" fill="none"/></g>
<path d="M870.40,493.30V489.80M870.40,282.40V285.90M724.40,387.85H727.90M1016.40,387.85H1012.90" stroke="#262626" stroke-width="1.3" fill="none"/>
<rect x="724.40" y="282.40" width="292.00" height="210.90" stroke="#262626" stroke-width="1.3" fill="none"/>
<g fill="none">
<path d="M724.40,299.84L725.29,300.48L726.19,301.11L727.08,301.75L727.98,302.38L728.87,303.01L729.76,303.65L730.66,304.28L731.55,304.92L732.44,305.55L733.34,306.18L734.23,306.82L735.12,307.45L736.02,308.09L736.91,308.72L737.80,309.36L738.69,309.99L739.59,310.63L740.48,311.26L741.37,311.90L742.26,312.53L743.15,313.17L744.05,313.80L744.94,314.44L745.83,315.07L746.72,315.71L747.61,316.34L748.50,316.98L749.39,317.62L750.28,318.25L751.17,318.89L752.07,319.52L752.96,320.16L753.85,320.80L754.74,321.43L755.63,322.07L756.52,322.71L757.41,323.34L758.30,323.98L759.19,324.62L760.07,325.25L760.96,325.89L761.85,326.53L762.74,327.17L763.63,327.80L764.52,328.44L765.41,329.08L766.30,329.72L767.19,330.35L768.07,330.99L768.96,331.63L769.85,332.27L770.74,332.91L771.63,333.54L772.51,334.18L773.40,334.82L774.29,335.46L775.18,336.10L776.06,336.74L776.95,337.38L777.84,338.01L778.72,338.65L779.61,339.29L780.50,339.93L781.38,340.57L782.27,341.21L783.16,341.85L784.04,342.49L784.93,343.13L785.81,343.77L786.70,344.41L787.58,345.05L788.47,345.69L789.35,346.33L790.24,346.97L791.12,347.61L792.01,348.25L792.89,348.89L793.78,349.53L794.66,350.17L795.55,350.81L796.43,351.45L797.32,352.09L798.20,352.73L799.08,353.37L799.97,354.02L800.85,354.66L801.73,355.30L802.62,355.94L803.50,356.58L804.38,357.22L805.27,357.86L806.15,358.51L807.03,359.15L807.92,359.79L808.80,360.43L809.68,361.07L810.56,361.72L811.44,362.36L812.33,363.00L813.21,363.64L814.09,364.29L814.97,364.93L815.85,365.57L816.73,366.21L817.62,366.86L818.50,367.50L819.38,368.14L820.26,368.79L821.14,369.43L822.02,370.07L822.90,370.72L823.78,371.36L824.66,372.00L825.54,372.65L826.42,373.29L827.30,373.94L828.18,374.58L829.06,375.22L829.94,375.87L830.82,376.51L831.70,377.16L832.58,377.80L833.45,378.45L834.33,379.09L835.21,379.74L836.09,380.38L836.97,381.03L837.85,381.67L838.73,382.32L839.60,382.96L840.48,383.61L841.36,384.25L842.24,384.90L843.11,385.54L843.99,386.19L844.87,386.83L845.75,387.48L846.62,388.13L847.50,388.77L848.38,389.42L849.25,390.07L850.13,390.71L851.01,391.36L851.88,392.00L852.76,392.65L853.63,393.30L854.51,393.94L855.39,394.59L856.26,395.24L857.14,395.89L858.01,396.53L858.89,397.18L859.76,397.83L860.64,398.47L861.51,399.12L862.39,399.77L863.26,400.42L864.13,401.07L865.01,401.71L865.88,402.36L866.76,403.01L867.63,403.66L868.51,404.31L869.38,404.95L870.25,405.60L871.13,406.25L872.00,406.90L872.87,407.55L873.74,408.20L874.62,408.85L875.49,409.49L876.36,410.14L877.24,410.79L878.11,411.44L878.98,412.09L879.85,412.74L880.72,413.39L881.60,414.04L882.47,414.69L883.34,415.34L884.21,415.99L885.08,416.64L885.95,417.29L886.82,417.94L887.70,418.59L888.57,419.24L889.44,419.89L890.31,420.54L891.18,421.19L892.05,421.84L892.92,422.49L893.79,423.14L894.66,423.79L895.53,424.45L896.40,425.10L897.27,425.75L898.14,426.40L899.01,427.05L899.87,427.70L900.74,428.35L901.61,429.01L902.48,429.66L903.35,430.31L904.22,430.96L905.09,431.61L905.96,432.26L906.82,432.92L907.69,433.57L908.56,434.22L909.43,434.87L910.29,435.53L911.16,436.18L912.03,436.83L912.90,437.48L913.76,438.14L914.63,438.79L915.50,439.44L916.36,440.10L917.23,440.75L918.10,441.40L918.96,442.06L919.83,442.71L920.70,443.36L921.56,444.02L922.43,444.67L923.29,445.33L924.16,445.98L925.02,446.63L925.89,447.29L926.75,447.94L927.62,448.60L928.48,449.25L929.35,449.91L930.21,450.56L931.08,451.21L931.94,451.87L932.81,452.52L933.67,453.18L934.53,453.83L935.40,454.49L936.26,455.14L937.13,455.80L937.99,456.46L938.85,457.11L939.72,457.77L940.58,458.42L941.44,459.08L942.30,459.73L943.17,460.39L944.03,461.05L944.89,461.70L945.75,462.36L946.62,463.01L947.48,463.67L948.34,464.33L949.20,464.98L950.06,465.64L950.92,466.30L951.79,466.95L952.65,467.61L953.51,468.27L954.37,468.92L955.23,469.58L956.09,470.24L956.95,470.90L957.81,471.55L958.67,472.21L959.53,472.87L960.39,473.53L961.25,474.18L962.11,474.84L962.97,475.50L963.83,476.16L964.69,476.82L965.55,477.48L966.41,478.13L967.27,478.79L968.13,479.45L968.99,480.11L969.84,480.77L970.70,481.43L971.56,482.09L972.42,482.74L973.28,483.40L974.14,484.06L974.99,484.72L975.85,485.38L976.71,486.04L977.57,486.70L978.42,487.36L979.28,488.02L980.14,488.68L980.99,489.34L981.85,490.00L982.71,490.66L983.56,491.32L984.42,491.98L985.28,492.64L986.13,493.30" stroke="#00ff00" stroke-width="6.8" stroke-dasharray="20.5 20.10" stroke-dashoffset="22.00"/>
<path d="M1016.4,446.9Q911.4,366.45 801.3,288.2L793.1,282.4" stroke="#ff0000" stroke-width="6.3" stroke-dasharray="20.5 20.75"/>
<path d="M724.40,299.25L725.30,299.89L726.19,300.52L727.09,301.16L727.99,301.80L728.88,302.43L729.78,303.07L730.68,303.70L731.57,304.34L732.47,304.98L733.37,305.61L734.26,306.25L735.16,306.88L736.05,307.52L736.95,308.16L737.84,308.79L738.74,309.43L739.63,310.07L740.53,310.70L741.42,311.34L742.32,311.98L743.21,312.62L744.11,313.25L745.00,313.89L745.90,314.53L746.79,315.17L747.68,315.80L748.58,316.44L749.47,317.08L750.36,317.72L751.26,318.35L752.15,318.99L753.04,319.63L753.94,320.27L754.83,320.91L755.72,321.55L756.62,322.18L757.51,322.82L758.40,323.46L759.29,324.10L760.19,324.74L761.08,325.38L761.97,326.02L762.86,326.66L763.75,327.30L764.64,327.94L765.54,328.58L766.43,329.21L767.32,329.85L768.21,330.49L769.10,331.13L769.99,331.77L770.88,332.41L771.77,333.05L772.66,333.69L773.55,334.34L774.44,334.98L775.33,335.62L776.22,336.26L777.11,336.90L778.00,337.54L778.89,338.18L779.78,338.82L780.67,339.46L781.56,340.10L782.45,340.74L783.34,341.38L784.23,342.03L785.12,342.67L786.00,343.31L786.89,343.95L787.78,344.59L788.67,345.23L789.56,345.88L790.44,346.52L791.33,347.16L792.22,347.80L793.11,348.45L793.99,349.09L794.88,349.73L795.77,350.37L796.66,351.02L797.54,351.66L798.43,352.30L799.32,352.94L800.20,353.59L801.09,354.23L801.97,354.87L802.86,355.52L803.75,356.16L804.63,356.80L805.52,357.45L806.40,358.09L807.29,358.74L808.17,359.38L809.06,360.02L809.94,360.67L810.83,361.31L811.71,361.96L812.60,362.60L813.48,363.25L814.37,363.89L815.25,364.53L816.14,365.18L817.02,365.82L817.90,366.47L818.79,367.11L819.67,367.76L820.55,368.40L821.44,369.05L822.32,369.69L823.20,370.34L824.09,370.99L824.97,371.63L825.85,372.28L826.74,372.92L827.62,373.57L828.50,374.22L829.38,374.86L830.27,375.51L831.15,376.15L832.03,376.80L832.91,377.45L833.79,378.09L834.67,378.74L835.55,379.39L836.44,380.03L837.32,380.68L838.20,381.33L839.08,381.97L839.96,382.62L840.84,383.27L841.72,383.92L842.60,384.56L843.48,385.21L844.36,385.86L845.24,386.51L846.12,387.15L847.00,387.80L847.88,388.45L848.76,389.10L849.64,389.75L850.52,390.40L851.40,391.04L852.28,391.69L853.15,392.34L854.03,392.99L854.91,393.64L855.79,394.29L856.67,394.94L857.55,395.59L858.42,396.23L859.30,396.88L860.18,397.53L861.06,398.18L861.93,398.83L862.81,399.48L863.69,400.13L864.57,400.78L865.44,401.43L866.32,402.08L867.20,402.73L868.07,403.38L868.95,404.03L869.83,404.68L870.70,405.33L871.58,405.98L872.45,406.63L873.33,407.28L874.21,407.93L875.08,408.58L875.96,409.24L876.83,409.89L877.71,410.54L878.58,411.19L879.46,411.84L880.33,412.49L881.21,413.14L882.08,413.79L882.96,414.45L883.83,415.10L884.70,415.75L885.58,416.40L886.45,417.05L887.32,417.71L888.20,418.36L889.07,419.01L889.95,419.66L890.82,420.32L891.69,420.97L892.56,421.62L893.44,422.27L894.31,422.93L895.18,423.58L896.05,424.23L896.93,424.89L897.80,425.54L898.67,426.19L899.54,426.85L900.42,427.50L901.29,428.15L902.16,428.81L903.03,429.46L903.90,430.11L904.77,430.77L905.64,431.42L906.51,432.08L907.38,432.73L908.26,433.38L909.13,434.04L910.00,434.69L910.87,435.35L911.74,436.00L912.61,436.66L913.48,437.31L914.35,437.97L915.22,438.62L916.08,439.28L916.95,439.93L917.82,440.59L918.69,441.24L919.56,441.90L920.43,442.55L921.30,443.21L922.17,443.86L923.04,444.52L923.90,445.18L924.77,445.83L925.64,446.49L926.51,447.14L927.38,447.80L928.24,448.46L929.11,449.11L929.98,449.77L930.84,450.43L931.71,451.08L932.58,451.74L933.45,452.40L934.31,453.05L935.18,453.71L936.05,454.37L936.91,455.03L937.78,455.68L938.64,456.34L939.51,457.00L940.38,457.66L941.24,458.31L942.11,458.97L942.97,459.63L943.84,460.29L944.70,460.95L945.57,461.60L946.43,462.26L947.30,462.92L948.16,463.58L949.03,464.24L949.89,464.90L950.75,465.55L951.62,466.21L952.48,466.87L953.35,467.53L954.21,468.19L955.07,468.85L955.94,469.51L956.80,470.17L957.66,470.83L958.53,471.49L959.39,472.15L960.25,472.81L961.12,473.47L961.98,474.13L962.84,474.79L963.70,475.45L964.56,476.11L965.43,476.77L966.29,477.43L967.15,478.09L968.01,478.75L968.87,479.41L969.73,480.07L970.60,480.73L971.46,481.39L972.32,482.05L973.18,482.71L974.04,483.37L974.90,484.03L975.76,484.70L976.62,485.36L977.48,486.02L978.34,486.68L979.20,487.34L980.06,488.00L980.92,488.66L981.78,489.33L982.64,489.99L983.50,490.65L984.36,491.31L985.22,491.98L986.07,492.64L986.93,493.30" stroke="#0000ff" stroke-width="4.2"/>
</g>
<g font-family='"Liberation Serif", "DejaVu Serif", serif' font-size="41.5" fill="#262626" stroke="#fff" stroke-width="0.3">
<text x="693.32" y="543.00" textLength="62.16" lengthAdjust="spacingAndGlyphs" font-size="42.3">810</text>
<text x="839.32" y="543.00" textLength="62.20" lengthAdjust="spacingAndGlyphs" font-size="42.3">815</text>
<text x="985.32" y="543.00" textLength="62.16" lengthAdjust="spacingAndGlyphs" font-size="42.3">820</text>
<text x="648.35" y="504.10" textLength="62.58" lengthAdjust="spacingAndGlyphs" font-size="42.3">705</text>
<text x="648.35" y="398.65" textLength="62.54" lengthAdjust="spacingAndGlyphs" font-size="42.3">710</text>
<text x="648.35" y="293.20" textLength="62.58" lengthAdjust="spacingAndGlyphs" font-size="42.3">715</text>
</g>
<ellipse cx="1136" cy="133.2" rx="34.7" ry="37.2" stroke="#d95319" stroke-width="5" fill="none"/>
<path d="M1105.7,154.7L924,268" stroke="#d95319" stroke-width="4.6" fill="none"/>
<path d="M909.9,276.8L927.2,254.3L925.5,267.3L937.6,271.3Z" fill="#d95319"/>
</svg></body></html>
